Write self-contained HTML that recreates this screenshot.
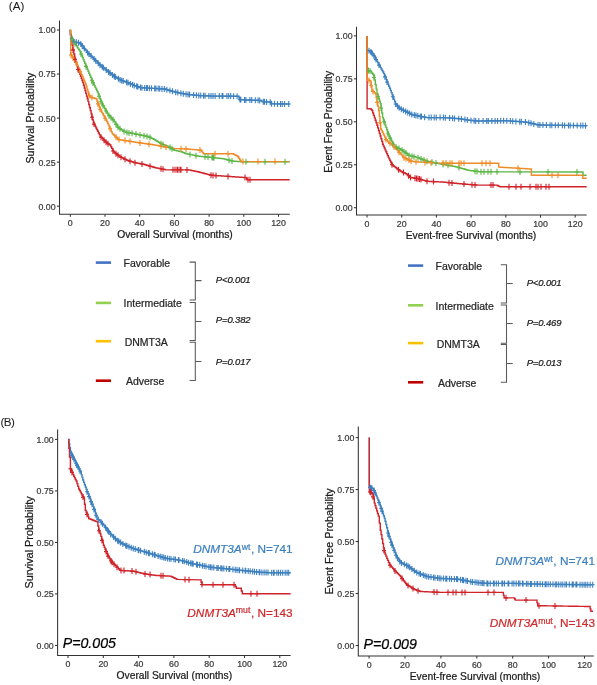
<!DOCTYPE html>
<html><head><meta charset="utf-8"><title>Kaplan-Meier curves</title>
<style>
html,body{margin:0;padding:0;background:#fff;}
body{width:597px;height:685px;overflow:hidden;}
svg{display:block;font-family:"Liberation Sans",Arial,sans-serif;}
text{stroke-width:0.22px;}
</style></head>
<body>
<svg width="597" height="685" viewBox="0 0 597 685">
<rect width="597" height="685" fill="#fff"/>
<path d="M59.5,20.6V214.2H289.8" fill="none" stroke="#333333" stroke-width="1.05"/>
<path d="M56.9,30.0H59.5" stroke="#333333" stroke-width="1.05"/>
<text x="55.6" y="33.4" font-size="8.8" fill="#3a3a3a" stroke="#3a3a3a" text-anchor="end" >1.00</text>
<path d="M56.9,74.05000000000001H59.5" stroke="#333333" stroke-width="1.05"/>
<text x="55.6" y="77.45000000000002" font-size="8.8" fill="#3a3a3a" stroke="#3a3a3a" text-anchor="end" >0.75</text>
<path d="M56.9,118.1H59.5" stroke="#333333" stroke-width="1.05"/>
<text x="55.6" y="121.5" font-size="8.8" fill="#3a3a3a" stroke="#3a3a3a" text-anchor="end" >0.50</text>
<path d="M56.9,162.14999999999998H59.5" stroke="#333333" stroke-width="1.05"/>
<text x="55.6" y="165.54999999999998" font-size="8.8" fill="#3a3a3a" stroke="#3a3a3a" text-anchor="end" >0.25</text>
<path d="M56.9,206.2H59.5" stroke="#333333" stroke-width="1.05"/>
<text x="55.6" y="209.6" font-size="8.8" fill="#3a3a3a" stroke="#3a3a3a" text-anchor="end" >0.00</text>
<path d="M70.3,214.2V216.79999999999998" stroke="#333333" stroke-width="1.05"/>
<text x="70.3" y="225.9" font-size="8.8" fill="#3a3a3a" stroke="#3a3a3a" text-anchor="middle" >0</text>
<path d="M105.0,214.2V216.79999999999998" stroke="#333333" stroke-width="1.05"/>
<text x="105.0" y="225.9" font-size="8.8" fill="#3a3a3a" stroke="#3a3a3a" text-anchor="middle" >20</text>
<path d="M139.7,214.2V216.79999999999998" stroke="#333333" stroke-width="1.05"/>
<text x="139.7" y="225.9" font-size="8.8" fill="#3a3a3a" stroke="#3a3a3a" text-anchor="middle" >40</text>
<path d="M174.4,214.2V216.79999999999998" stroke="#333333" stroke-width="1.05"/>
<text x="174.4" y="225.9" font-size="8.8" fill="#3a3a3a" stroke="#3a3a3a" text-anchor="middle" >60</text>
<path d="M209.10000000000002,214.2V216.79999999999998" stroke="#333333" stroke-width="1.05"/>
<text x="209.10000000000002" y="225.9" font-size="8.8" fill="#3a3a3a" stroke="#3a3a3a" text-anchor="middle" >80</text>
<path d="M243.8,214.2V216.79999999999998" stroke="#333333" stroke-width="1.05"/>
<text x="243.8" y="225.9" font-size="8.8" fill="#3a3a3a" stroke="#3a3a3a" text-anchor="middle" >100</text>
<path d="M278.5,214.2V216.79999999999998" stroke="#333333" stroke-width="1.05"/>
<text x="278.5" y="225.9" font-size="8.8" fill="#3a3a3a" stroke="#3a3a3a" text-anchor="middle" >120</text>
<text x="0" y="0" font-size="10.7" fill="#1a1a1a" stroke="#1a1a1a" text-anchor="middle" transform="translate(34.4,118.1) rotate(-90)">Survival Probability</text>
<text x="175.0" y="238.0" font-size="10.3" fill="#1a1a1a" stroke="#1a1a1a" text-anchor="middle" >Overall Survival (months)</text>
<path d="M69.60,30.40 L70.30,30.40 L70.30,33.70 L71.00,33.70 L71.00,37.00 L71.80,37.00 L71.80,38.57 L72.60,38.57 L72.60,40.13 L73.40,40.13 L73.40,41.70 L74.24,41.70 L74.24,41.88 L75.08,41.88 L75.08,42.05 L75.91,42.05 L75.91,42.23 L76.75,42.23 L76.75,42.40 L77.59,42.40 L77.59,42.58 L78.42,42.58 L78.42,42.75 L79.26,42.75 L79.26,42.93 L80.10,42.93 L80.10,43.10 L80.94,43.10 L80.94,44.19 L81.77,44.19 L81.77,45.27 L82.61,45.27 L82.61,46.36 L83.45,46.36 L83.45,47.45 L84.29,47.45 L84.29,48.54 L85.12,48.54 L85.12,49.62 L85.96,49.62 L85.96,50.71 L86.80,50.71 L86.80,51.80 L87.64,51.80 L87.64,52.64 L88.47,52.64 L88.47,53.47 L89.31,53.47 L89.31,54.31 L90.15,54.31 L90.15,55.15 L90.99,55.15 L90.99,55.99 L91.83,55.99 L91.83,56.83 L92.66,56.83 L92.66,57.66 L93.50,57.66 L93.50,58.50 L94.34,58.50 L94.34,59.34 L95.17,59.34 L95.17,60.17 L96.01,60.17 L96.01,61.01 L96.85,61.01 L96.85,61.85 L97.69,61.85 L97.69,62.69 L98.53,62.69 L98.53,63.53 L99.36,63.53 L99.36,64.36 L100.20,64.36 L100.20,65.20 L101.04,65.20 L101.04,65.88 L101.88,65.88 L101.88,66.55 L102.71,66.55 L102.71,67.22 L103.55,67.22 L103.55,67.90 L104.39,67.90 L104.39,68.58 L105.23,68.58 L105.23,69.25 L106.06,69.25 L106.06,69.92 L106.90,69.92 L106.90,70.60 L107.74,70.60 L107.74,71.26 L108.58,71.26 L108.58,71.92 L109.41,71.92 L109.41,72.59 L110.25,72.59 L110.25,73.25 L111.09,73.25 L111.09,73.91 L111.92,73.91 L111.92,74.58 L112.76,74.58 L112.76,75.24 L113.60,75.24 L113.60,75.90 L114.44,75.90 L114.44,76.41 L115.27,76.41 L115.27,76.93 L116.11,76.93 L116.11,77.44 L116.95,77.44 L116.95,77.95 L117.79,77.95 L117.79,78.46 L118.62,78.46 L118.62,78.97 L119.46,78.97 L119.46,79.49 L120.30,79.49 L120.30,80.00 L121.14,80.00 L121.14,80.30 L121.97,80.30 L121.97,80.60 L122.81,80.60 L122.81,80.90 L123.65,80.90 L123.65,81.20 L124.49,81.20 L124.49,81.50 L125.33,81.50 L125.33,81.80 L126.16,81.80 L126.16,82.10 L127.00,82.10 L127.00,82.40 L127.84,82.40 L127.84,82.76 L128.68,82.76 L128.68,83.12 L129.51,83.12 L129.51,83.49 L130.35,83.49 L130.35,83.85 L131.19,83.85 L131.19,84.21 L132.02,84.21 L132.02,84.58 L132.86,84.58 L132.86,84.94 L133.70,84.94 L133.70,85.30 L134.52,85.30 L134.52,85.59 L135.35,85.59 L135.35,85.88 L136.18,85.88 L136.18,86.16 L137.00,86.16 L137.00,86.45 L137.82,86.45 L137.82,86.74 L138.65,86.74 L138.65,87.02 L139.48,87.02 L139.48,87.31 L140.30,87.31 L140.30,87.60 L141.11,87.60 L141.11,87.65 L141.92,87.65 L141.92,87.70 L142.73,87.70 L142.73,87.75 L143.53,87.75 L143.53,87.80 L144.34,87.80 L144.34,87.85 L145.15,87.85 L145.15,87.90 L145.96,87.90 L145.96,87.95 L146.77,87.95 L146.77,88.00 L147.57,88.00 L147.57,88.05 L148.38,88.05 L148.38,88.10 L149.19,88.10 L149.19,88.15 L150.00,88.15 L150.00,88.20 L150.81,88.20 L150.81,88.24 L151.62,88.24 L151.62,88.29 L152.43,88.29 L152.43,88.33 L153.24,88.33 L153.24,88.38 L154.06,88.38 L154.06,88.42 L154.87,88.42 L154.87,88.47 L155.68,88.47 L155.68,88.51 L156.49,88.51 L156.49,88.56 L157.30,88.56 L157.30,88.60 L158.11,88.60 L158.11,88.64 L158.92,88.64 L158.92,88.69 L159.73,88.69 L159.73,88.73 L160.54,88.73 L160.54,88.78 L161.36,88.78 L161.36,88.82 L162.17,88.82 L162.17,88.87 L162.98,88.87 L162.98,88.91 L163.79,88.91 L163.79,88.96 L164.60,88.96 L164.60,89.00 L165.41,89.00 L165.41,89.24 L166.22,89.24 L166.22,89.48 L167.03,89.48 L167.03,89.72 L167.83,89.72 L167.83,89.97 L168.64,89.97 L168.64,90.21 L169.45,90.21 L169.45,90.45 L170.26,90.45 L170.26,90.69 L171.07,90.69 L171.07,90.93 L171.88,90.93 L171.88,91.18 L172.68,91.18 L172.68,91.42 L173.49,91.42 L173.49,91.66 L174.30,91.66 L174.30,91.90 L175.11,91.90 L175.11,92.06 L175.91,92.06 L175.91,92.22 L176.72,92.22 L176.72,92.38 L177.53,92.38 L177.53,92.54 L178.33,92.54 L178.33,92.70 L179.14,92.70 L179.14,92.86 L179.95,92.86 L179.95,93.02 L180.75,93.02 L180.75,93.18 L181.56,93.18 L181.56,93.34 L182.37,93.34 L182.37,93.50 L183.17,93.50 L183.17,93.66 L183.98,93.66 L183.98,93.82 L184.79,93.82 L184.79,93.98 L185.59,93.98 L185.59,94.14 L186.40,94.14 L186.40,94.30 L187.21,94.30 L187.21,94.38 L188.03,94.38 L188.03,94.46 L188.84,94.46 L188.84,94.54 L189.65,94.54 L189.65,94.62 L190.47,94.62 L190.47,94.70 L191.28,94.70 L191.28,94.78 L192.09,94.78 L192.09,94.86 L192.91,94.86 L192.91,94.94 L193.72,94.94 L193.72,95.02 L194.53,95.02 L194.53,95.10 L195.35,95.10 L195.35,95.18 L196.16,95.18 L196.16,95.26 L196.97,95.26 L196.97,95.34 L197.79,95.34 L197.79,95.42 L198.60,95.42 L198.60,95.50 L210.70,96.00 L238.00,96.20 L239.00,96.20 L239.00,98.00 L240.00,98.00 L240.00,99.80 L240.80,99.80 L240.80,99.82 L241.60,99.82 L241.60,99.85 L242.40,99.85 L242.40,99.87 L243.20,99.87 L243.20,99.90 L244.00,99.90 L244.00,99.92 L244.80,99.92 L244.80,99.94 L245.60,99.94 L245.60,99.97 L246.40,99.97 L246.40,99.99 L247.20,99.99 L247.20,100.02 L248.00,100.02 L248.00,100.04 L248.80,100.04 L248.80,100.06 L249.60,100.06 L249.60,100.09 L250.40,100.09 L250.40,100.11 L251.20,100.11 L251.20,100.14 L252.00,100.14 L252.00,100.16 L252.80,100.16 L252.80,100.18 L253.60,100.18 L253.60,100.21 L254.40,100.21 L254.40,100.23 L255.20,100.23 L255.20,100.26 L256.00,100.26 L256.00,100.28 L256.80,100.28 L256.80,100.30 L257.60,100.30 L257.60,100.33 L258.40,100.33 L258.40,100.35 L259.20,100.35 L259.20,100.38 L260.00,100.38 L260.00,100.40 L261.00,100.40 L261.00,101.05 L262.00,101.05 L262.00,101.70 L270.00,102.00 L270.75,102.00 L270.75,102.90 L271.50,102.90 L271.50,103.80 L289.70,104.00" fill="none" stroke="#3d80bf" stroke-width="1.4" stroke-linejoin="miter"/>
<path d="M69.60,30.40 L70.70,30.40 L70.70,37.00 L71.48,37.00 L71.48,38.23 L72.27,38.23 L72.27,39.47 L73.05,39.47 L73.05,40.70 L73.83,40.70 L73.83,41.93 L74.62,41.93 L74.62,43.17 L75.40,43.17 L75.40,44.40 L76.18,44.40 L76.18,45.63 L76.97,45.63 L76.97,46.87 L77.75,46.87 L77.75,48.10 L78.53,48.10 L78.53,49.33 L79.32,49.33 L79.32,50.57 L80.10,50.57 L80.10,51.80 L80.87,51.80 L80.87,53.71 L81.64,53.71 L81.64,55.63 L82.41,55.63 L82.41,57.54 L83.19,57.54 L83.19,59.46 L83.96,59.46 L83.96,61.37 L84.73,61.37 L84.73,63.29 L85.50,63.29 L85.50,65.20 L86.34,65.20 L86.34,67.21 L87.17,67.21 L87.17,69.22 L88.01,69.22 L88.01,71.24 L88.85,71.24 L88.85,73.25 L89.69,73.25 L89.69,75.26 L90.53,75.26 L90.53,77.28 L91.36,77.28 L91.36,79.29 L92.20,79.29 L92.20,81.30 L92.94,81.30 L92.94,82.83 L93.69,82.83 L93.69,84.36 L94.43,84.36 L94.43,85.89 L95.17,85.89 L95.17,87.41 L95.91,87.41 L95.91,88.94 L96.66,88.94 L96.66,90.47 L97.40,90.47 L97.40,92.00 L98.20,92.00 L98.20,94.16 L99.00,94.16 L99.00,96.32 L99.80,96.32 L99.80,98.48 L100.60,98.48 L100.60,100.64 L101.40,100.64 L101.40,102.80 L102.24,102.80 L102.24,104.30 L103.08,104.30 L103.08,105.80 L103.91,105.80 L103.91,107.30 L104.75,107.30 L104.75,108.80 L105.59,108.80 L105.59,110.30 L106.42,110.30 L106.42,111.80 L107.26,111.80 L107.26,113.30 L108.10,113.30 L108.10,114.80 L108.87,114.80 L108.87,115.57 L109.64,115.57 L109.64,116.34 L110.41,116.34 L110.41,117.11 L111.19,117.11 L111.19,117.89 L111.96,117.89 L111.96,118.66 L112.73,118.66 L112.73,119.43 L113.50,119.43 L113.50,120.20 L114.30,120.20 L114.30,121.54 L115.10,121.54 L115.10,122.88 L115.90,122.88 L115.90,124.22 L116.70,124.22 L116.70,125.56 L117.50,125.56 L117.50,126.90 L118.27,126.90 L118.27,127.47 L119.04,127.47 L119.04,128.04 L119.81,128.04 L119.81,128.61 L120.59,128.61 L120.59,129.19 L121.36,129.19 L121.36,129.76 L122.13,129.76 L122.13,130.33 L122.90,130.33 L122.90,130.90 L123.68,130.90 L123.68,131.22 L124.46,131.22 L124.46,131.54 L125.24,131.54 L125.24,131.86 L126.02,131.86 L126.02,132.18 L126.80,132.18 L126.80,132.50 L127.65,132.50 L127.65,132.64 L128.50,132.64 L128.50,132.78 L129.35,132.78 L129.35,132.91 L130.20,132.91 L130.20,133.05 L131.05,133.05 L131.05,133.19 L131.90,133.19 L131.90,133.32 L132.75,133.32 L132.75,133.46 L133.60,133.46 L133.60,133.60 L134.38,133.60 L134.38,133.76 L135.17,133.76 L135.17,133.93 L135.95,133.93 L135.95,134.09 L136.74,134.09 L136.74,134.25 L137.52,134.25 L137.52,134.42 L138.31,134.42 L138.31,134.58 L139.09,134.58 L139.09,134.74 L139.87,134.74 L139.87,134.91 L140.66,134.91 L140.66,135.07 L141.44,135.07 L141.44,135.23 L142.23,135.23 L142.23,135.39 L143.01,135.39 L143.01,135.56 L143.79,135.56 L143.79,135.72 L144.58,135.72 L144.58,135.88 L145.36,135.88 L145.36,136.05 L146.15,136.05 L146.15,136.21 L146.93,136.21 L146.93,136.37 L147.72,136.37 L147.72,136.54 L148.50,136.54 L148.50,136.70 L149.35,136.70 L149.35,137.12 L150.20,137.12 L150.20,137.53 L151.05,137.53 L151.05,137.95 L151.90,137.95 L151.90,138.37 L152.75,138.37 L152.75,138.78 L153.60,138.78 L153.60,139.20 L154.44,139.20 L154.44,139.72 L155.28,139.72 L155.28,140.25 L156.11,140.25 L156.11,140.78 L156.95,140.78 L156.95,141.30 L157.79,141.30 L157.79,141.82 L158.62,141.82 L158.62,142.35 L159.46,142.35 L159.46,142.88 L160.30,142.88 L160.30,143.40 L161.13,143.40 L161.13,143.74 L161.96,143.74 L161.96,144.08 L162.79,144.08 L162.79,144.42 L163.62,144.42 L163.62,144.76 L164.45,144.76 L164.45,145.10 L165.28,145.10 L165.28,145.44 L166.11,145.44 L166.11,145.78 L166.94,145.78 L166.94,146.12 L167.77,146.12 L167.77,146.46 L168.60,146.46 L168.60,146.80 L169.41,146.80 L169.41,147.29 L170.23,147.29 L170.23,147.77 L171.04,147.77 L171.04,148.26 L171.86,148.26 L171.86,148.74 L172.67,148.74 L172.67,149.23 L173.49,149.23 L173.49,149.71 L174.30,149.71 L174.30,150.20 L175.06,150.20 L175.06,150.36 L175.83,150.36 L175.83,150.52 L176.59,150.52 L176.59,150.69 L177.35,150.69 L177.35,150.85 L178.11,150.85 L178.11,151.01 L178.88,151.01 L178.88,151.18 L179.64,151.18 L179.64,151.34 L180.40,151.34 L180.40,151.50 L181.15,151.50 L181.15,151.79 L181.90,151.79 L181.90,152.07 L182.65,152.07 L182.65,152.36 L183.40,152.36 L183.40,152.65 L184.15,152.65 L184.15,152.94 L184.90,152.94 L184.90,153.23 L185.65,153.23 L185.65,153.51 L186.40,153.51 L186.40,153.80 L187.21,153.80 L187.21,153.96 L188.03,153.96 L188.03,154.12 L188.84,154.12 L188.84,154.28 L189.65,154.28 L189.65,154.44 L190.47,154.44 L190.47,154.60 L191.28,154.60 L191.28,154.76 L192.09,154.76 L192.09,154.92 L192.91,154.92 L192.91,155.08 L193.72,155.08 L193.72,155.24 L194.53,155.24 L194.53,155.40 L195.35,155.40 L195.35,155.56 L196.16,155.56 L196.16,155.72 L196.97,155.72 L196.97,155.88 L197.79,155.88 L197.79,156.04 L198.60,156.04 L198.60,156.20 L199.41,156.20 L199.41,156.28 L200.21,156.28 L200.21,156.36 L201.02,156.36 L201.02,156.44 L201.83,156.44 L201.83,156.52 L202.63,156.52 L202.63,156.60 L203.44,156.60 L203.44,156.68 L204.25,156.68 L204.25,156.76 L205.05,156.76 L205.05,156.84 L205.86,156.84 L205.86,156.92 L206.67,156.92 L206.67,157.00 L207.47,157.00 L207.47,157.08 L208.28,157.08 L208.28,157.16 L209.09,157.16 L209.09,157.24 L209.89,157.24 L209.89,157.32 L210.70,157.32 L210.70,157.40 L211.51,157.40 L211.51,157.49 L212.33,157.49 L212.33,157.57 L213.14,157.57 L213.14,157.66 L213.95,157.66 L213.95,157.75 L214.77,157.75 L214.77,157.83 L215.58,157.83 L215.58,157.92 L216.39,157.92 L216.39,158.01 L217.21,158.01 L217.21,158.09 L218.02,158.09 L218.02,158.18 L218.83,158.18 L218.83,158.27 L219.65,158.27 L219.65,158.35 L220.46,158.35 L220.46,158.44 L221.27,158.44 L221.27,158.53 L222.09,158.53 L222.09,158.61 L222.90,158.61 L222.90,158.70 L223.71,158.70 L223.71,158.90 L224.52,158.90 L224.52,159.10 L225.32,159.10 L225.32,159.30 L226.13,159.30 L226.13,159.50 L226.94,159.50 L226.94,159.70 L227.75,159.70 L227.75,159.90 L228.56,159.90 L228.56,160.10 L229.37,160.10 L229.37,160.30 L230.18,160.30 L230.18,160.50 L230.98,160.50 L230.98,160.70 L231.79,160.70 L231.79,160.90 L232.60,160.90 L232.60,161.10 L233.41,161.10 L233.41,161.16 L234.22,161.16 L234.22,161.22 L235.03,161.22 L235.03,161.28 L235.83,161.28 L235.83,161.33 L236.64,161.33 L236.64,161.39 L237.45,161.39 L237.45,161.45 L238.26,161.45 L238.26,161.51 L239.07,161.51 L239.07,161.57 L239.88,161.57 L239.88,161.62 L240.68,161.62 L240.68,161.68 L241.49,161.68 L241.49,161.74 L242.30,161.74 L242.30,161.80 L289.70,161.80" fill="none" stroke="#5cb748" stroke-width="1.4" stroke-linejoin="miter"/>
<path d="M69.60,30.40 L70.40,30.40 L70.40,35.30 L71.20,35.30 L71.20,40.20 L72.00,40.20 L72.00,45.10 L72.90,45.10 L72.90,49.57 L73.80,49.57 L73.80,54.03 L74.70,54.03 L74.70,58.50 L75.60,58.50 L75.60,61.63 L76.50,61.63 L76.50,64.77 L77.40,64.77 L77.40,67.90 L78.17,67.90 L78.17,70.00 L78.94,70.00 L78.94,72.10 L79.71,72.10 L79.71,74.20 L80.49,74.20 L80.49,76.30 L81.26,76.30 L81.26,78.40 L82.03,78.40 L82.03,80.50 L82.80,80.50 L82.80,82.60 L83.54,82.60 L83.54,85.29 L84.29,85.29 L84.29,87.97 L85.03,87.97 L85.03,90.66 L85.77,90.66 L85.77,93.34 L86.51,93.34 L86.51,96.03 L87.26,96.03 L87.26,98.71 L88.00,98.71 L88.00,101.40 L88.77,101.40 L88.77,104.47 L89.54,104.47 L89.54,107.54 L90.31,107.54 L90.31,110.61 L91.09,110.61 L91.09,113.69 L91.86,113.69 L91.86,116.76 L92.63,116.76 L92.63,119.83 L93.40,119.83 L93.40,122.90 L94.24,122.90 L94.24,124.58 L95.08,124.58 L95.08,126.25 L95.91,126.25 L95.91,127.93 L96.75,127.93 L96.75,129.60 L97.59,129.60 L97.59,131.28 L98.42,131.28 L98.42,132.95 L99.26,132.95 L99.26,134.62 L100.10,134.62 L100.10,136.30 L100.94,136.30 L100.94,137.14 L101.77,137.14 L101.77,137.98 L102.61,137.98 L102.61,138.81 L103.45,138.81 L103.45,139.65 L104.29,139.65 L104.29,140.49 L105.12,140.49 L105.12,141.32 L105.96,141.32 L105.96,142.16 L106.80,142.16 L106.80,143.00 L107.60,143.00 L107.60,143.50 L108.40,143.50 L108.40,144.00 L109.20,144.00 L109.20,144.50 L110.00,144.50 L110.00,145.00 L110.85,145.00 L110.85,146.70 L111.70,146.70 L111.70,148.40 L112.55,148.40 L112.55,150.10 L113.40,150.10 L113.40,151.80 L114.23,151.80 L114.23,152.43 L115.05,152.43 L115.05,153.05 L115.88,153.05 L115.88,153.68 L116.70,153.68 L116.70,154.30 L117.53,154.30 L117.53,154.93 L118.35,154.93 L118.35,155.55 L119.17,155.55 L119.17,156.18 L120.00,156.18 L120.00,156.80 L120.85,156.80 L120.85,157.23 L121.70,157.23 L121.70,157.65 L122.55,157.65 L122.55,158.07 L123.40,158.07 L123.40,158.50 L124.25,158.50 L124.25,158.93 L125.10,158.93 L125.10,159.35 L125.95,159.35 L125.95,159.77 L126.80,159.77 L126.80,160.20 L127.63,160.20 L127.63,160.45 L128.46,160.45 L128.46,160.70 L129.29,160.70 L129.29,160.95 L130.12,160.95 L130.12,161.20 L130.95,161.20 L130.95,161.45 L131.78,161.45 L131.78,161.70 L132.61,161.70 L132.61,161.95 L133.44,161.95 L133.44,162.20 L134.27,162.20 L134.27,162.45 L135.10,162.45 L135.10,162.70 L135.86,162.70 L135.86,162.85 L136.63,162.85 L136.63,162.99 L137.39,162.99 L137.39,163.14 L138.15,163.14 L138.15,163.28 L138.92,163.28 L138.92,163.43 L139.68,163.43 L139.68,163.57 L140.45,163.57 L140.45,163.72 L141.21,163.72 L141.21,163.86 L141.97,163.86 L141.97,164.01 L142.74,164.01 L142.74,164.15 L143.50,164.15 L143.50,164.30 L144.28,164.30 L144.28,164.53 L145.06,164.53 L145.06,164.75 L145.84,164.75 L145.84,164.98 L146.62,164.98 L146.62,165.21 L147.40,165.21 L147.40,165.43 L148.18,165.43 L148.18,165.66 L148.96,165.66 L148.96,165.89 L149.74,165.89 L149.74,166.11 L150.52,166.11 L150.52,166.34 L151.30,166.34 L151.30,166.57 L152.08,166.57 L152.08,166.79 L152.86,166.79 L152.86,167.02 L153.64,167.02 L153.64,167.25 L154.42,167.25 L154.42,167.47 L155.20,167.47 L155.20,167.70 L155.98,167.70 L155.98,167.85 L156.75,167.85 L156.75,168.01 L157.53,168.01 L157.53,168.16 L158.31,168.16 L158.31,168.32 L159.08,168.32 L159.08,168.47 L159.86,168.47 L159.86,168.62 L160.64,168.62 L160.64,168.78 L161.42,168.78 L161.42,168.93 L162.19,168.93 L162.19,169.08 L162.97,169.08 L162.97,169.24 L163.75,169.24 L163.75,169.39 L164.52,169.39 L164.52,169.55 L165.30,169.55 L165.30,169.70 L188.90,169.90 L189.71,169.90 L189.71,170.08 L190.52,170.08 L190.52,170.25 L191.32,170.25 L191.32,170.43 L192.13,170.43 L192.13,170.60 L192.94,170.60 L192.94,170.78 L193.75,170.78 L193.75,170.95 L194.56,170.95 L194.56,171.12 L195.37,171.12 L195.37,171.30 L196.18,171.30 L196.18,171.47 L196.98,171.47 L196.98,171.65 L197.79,171.65 L197.79,171.82 L198.60,171.82 L198.60,172.00 L199.41,172.00 L199.41,172.21 L200.21,172.21 L200.21,172.43 L201.02,172.43 L201.02,172.64 L201.83,172.64 L201.83,172.85 L202.63,172.85 L202.63,173.07 L203.44,173.07 L203.44,173.28 L204.25,173.28 L204.25,173.49 L205.05,173.49 L205.05,173.71 L205.86,173.71 L205.86,173.92 L206.67,173.92 L206.67,174.13 L207.47,174.13 L207.47,174.35 L208.28,174.35 L208.28,174.56 L209.09,174.56 L209.09,174.77 L209.89,174.77 L209.89,174.99 L210.70,174.99 L210.70,175.20 L211.51,175.20 L211.51,175.26 L212.32,175.26 L212.32,175.31 L213.13,175.31 L213.13,175.37 L213.94,175.37 L213.94,175.43 L214.75,175.43 L214.75,175.48 L215.56,175.48 L215.56,175.54 L216.37,175.54 L216.37,175.60 L217.18,175.60 L217.18,175.65 L217.99,175.65 L217.99,175.71 L218.80,175.71 L218.80,175.77 L219.61,175.77 L219.61,175.82 L220.42,175.82 L220.42,175.88 L221.23,175.88 L221.23,175.94 L222.04,175.94 L222.04,175.99 L222.85,175.99 L222.85,176.05 L223.66,176.05 L223.66,176.11 L224.47,176.11 L224.47,176.16 L225.28,176.16 L225.28,176.22 L226.09,176.22 L226.09,176.28 L226.90,176.28 L226.90,176.33 L227.71,176.33 L227.71,176.39 L228.52,176.39 L228.52,176.45 L229.33,176.45 L229.33,176.50 L230.14,176.50 L230.14,176.56 L230.95,176.56 L230.95,176.62 L231.76,176.62 L231.76,176.67 L232.57,176.67 L232.57,176.73 L233.38,176.73 L233.38,176.79 L234.19,176.79 L234.19,176.84 L235.00,176.84 L235.00,176.90 L235.78,176.90 L235.78,176.95 L236.56,176.95 L236.56,177.00 L237.34,177.00 L237.34,177.05 L238.11,177.05 L238.11,177.10 L238.89,177.10 L238.89,177.15 L239.67,177.15 L239.67,177.20 L240.45,177.20 L240.45,177.25 L241.23,177.25 L241.23,177.30 L242.01,177.30 L242.01,177.35 L242.79,177.35 L242.79,177.40 L243.56,177.40 L243.56,177.45 L244.34,177.45 L244.34,177.50 L245.12,177.50 L245.12,177.55 L245.90,177.55 L245.90,177.60 L246.55,177.60 L246.55,178.70 L247.20,178.70 L247.20,179.80 L289.70,179.80" fill="none" stroke="#d0242a" stroke-width="1.4" stroke-linejoin="miter"/>
<path d="M69.60,30.40 L70.70,30.40 L70.70,54.50 L71.46,54.50 L71.46,55.64 L72.21,55.64 L72.21,56.79 L72.97,56.79 L72.97,57.93 L73.73,57.93 L73.73,59.07 L74.49,59.07 L74.49,60.21 L75.24,60.21 L75.24,61.36 L76.00,61.36 L76.00,62.50 L76.77,62.50 L76.77,64.23 L77.54,64.23 L77.54,65.96 L78.31,65.96 L78.31,67.69 L79.09,67.69 L79.09,69.41 L79.86,69.41 L79.86,71.14 L80.63,71.14 L80.63,72.87 L81.40,72.87 L81.40,74.60 L82.20,74.60 L82.20,76.48 L83.00,76.48 L83.00,78.36 L83.80,78.36 L83.80,80.24 L84.60,80.24 L84.60,82.12 L85.40,82.12 L85.40,84.00 L86.20,84.00 L86.20,86.56 L87.00,86.56 L87.00,89.12 L87.80,89.12 L87.80,91.68 L88.60,91.68 L88.60,94.24 L89.40,94.24 L89.40,96.80 L90.24,96.80 L90.24,97.05 L91.08,97.05 L91.08,97.30 L91.91,97.30 L91.91,97.55 L92.75,97.55 L92.75,97.80 L93.59,97.80 L93.59,98.05 L94.42,98.05 L94.42,98.30 L95.26,98.30 L95.26,98.55 L96.10,98.55 L96.10,98.80 L96.90,98.80 L96.90,100.94 L97.70,100.94 L97.70,103.08 L98.50,103.08 L98.50,105.22 L99.30,105.22 L99.30,107.36 L100.10,107.36 L100.10,109.50 L100.94,109.50 L100.94,111.00 L101.77,111.00 L101.77,112.50 L102.61,112.50 L102.61,114.00 L103.45,114.00 L103.45,115.50 L104.29,115.50 L104.29,117.00 L105.12,117.00 L105.12,118.50 L105.96,118.50 L105.96,120.00 L106.80,120.00 L106.80,121.50 L107.57,121.50 L107.57,123.23 L108.34,123.23 L108.34,124.96 L109.11,124.96 L109.11,126.69 L109.89,126.69 L109.89,128.41 L110.66,128.41 L110.66,130.14 L111.43,130.14 L111.43,131.87 L112.20,131.87 L112.20,133.60 L112.98,133.60 L112.98,134.34 L113.75,134.34 L113.75,135.07 L114.53,135.07 L114.53,135.81 L115.30,135.81 L115.30,136.55 L116.08,136.55 L116.08,137.29 L116.85,137.29 L116.85,138.03 L117.62,138.03 L117.62,138.76 L118.40,138.76 L118.40,139.50 L119.24,139.50 L119.24,139.64 L120.08,139.64 L120.08,139.78 L120.92,139.78 L120.92,139.92 L121.76,139.92 L121.76,140.06 L122.60,140.06 L122.60,140.20 L123.44,140.20 L123.44,140.34 L124.28,140.34 L124.28,140.48 L125.12,140.48 L125.12,140.62 L125.96,140.62 L125.96,140.76 L126.80,140.76 L126.80,140.90 L127.60,140.90 L127.60,141.02 L128.39,141.02 L128.39,141.14 L129.19,141.14 L129.19,141.26 L129.98,141.26 L129.98,141.38 L130.78,141.38 L130.78,141.50 L131.57,141.50 L131.57,141.61 L132.37,141.61 L132.37,141.73 L133.16,141.73 L133.16,141.85 L133.96,141.85 L133.96,141.97 L134.75,141.97 L134.75,142.09 L135.55,142.09 L135.55,142.21 L136.34,142.21 L136.34,142.33 L137.14,142.33 L137.14,142.45 L137.93,142.45 L137.93,142.57 L138.73,142.57 L138.73,142.69 L139.52,142.69 L139.52,142.80 L140.32,142.80 L140.32,142.92 L141.11,142.92 L141.11,143.04 L141.91,143.04 L141.91,143.16 L142.70,143.16 L142.70,143.28 L143.50,143.28 L143.50,143.40 L144.28,143.40 L144.28,143.51 L145.06,143.51 L145.06,143.63 L145.84,143.63 L145.84,143.74 L146.62,143.74 L146.62,143.85 L147.40,143.85 L147.40,143.97 L148.18,143.97 L148.18,144.08 L148.96,144.08 L148.96,144.19 L149.74,144.19 L149.74,144.31 L150.52,144.31 L150.52,144.42 L151.30,144.42 L151.30,144.53 L152.08,144.53 L152.08,144.65 L152.86,144.65 L152.86,144.76 L153.64,144.76 L153.64,144.87 L154.42,144.87 L154.42,144.99 L155.20,144.99 L155.20,145.10 L155.96,145.10 L155.96,145.25 L156.73,145.25 L156.73,145.41 L157.49,145.41 L157.49,145.56 L158.25,145.56 L158.25,145.72 L159.02,145.72 L159.02,145.87 L159.78,145.87 L159.78,146.03 L160.55,146.03 L160.55,146.18 L161.31,146.18 L161.31,146.34 L162.07,146.34 L162.07,146.49 L162.84,146.49 L162.84,146.65 L163.60,146.65 L163.60,146.80 L164.38,146.80 L164.38,146.92 L165.15,146.92 L165.15,147.05 L165.93,147.05 L165.93,147.17 L166.71,147.17 L166.71,147.29 L167.48,147.29 L167.48,147.42 L168.26,147.42 L168.26,147.54 L169.04,147.54 L169.04,147.66 L169.82,147.66 L169.82,147.78 L170.59,147.78 L170.59,147.91 L171.37,147.91 L171.37,148.03 L172.15,148.03 L172.15,148.15 L172.92,148.15 L172.92,148.28 L173.70,148.28 L173.70,148.40 L186.40,149.00 L187.21,149.00 L187.21,149.07 L188.02,149.07 L188.02,149.13 L188.83,149.13 L188.83,149.20 L189.64,149.20 L189.64,149.27 L190.46,149.27 L190.46,149.33 L191.27,149.33 L191.27,149.40 L192.08,149.40 L192.08,149.47 L192.89,149.47 L192.89,149.53 L193.70,149.53 L193.70,149.60 L194.51,149.60 L194.51,149.67 L195.32,149.67 L195.32,149.73 L196.13,149.73 L196.13,149.80 L196.94,149.80 L196.94,149.87 L197.76,149.87 L197.76,149.93 L198.57,149.93 L198.57,150.00 L199.38,150.00 L199.38,150.07 L200.19,150.07 L200.19,150.13 L201.00,150.13 L201.00,150.20 L201.80,150.20 L201.80,151.40 L202.60,151.40 L202.60,152.60 L203.40,152.60 L203.40,153.80 L232.60,153.80 L233.40,153.80 L233.40,154.20 L234.20,154.20 L234.20,154.60 L235.00,154.60 L235.00,155.00 L235.80,155.00 L235.80,155.40 L236.60,155.40 L236.60,155.80 L237.40,155.80 L237.40,156.20 L238.14,156.20 L238.14,157.28 L238.88,157.28 L238.88,158.36 L239.62,158.36 L239.62,159.44 L240.36,159.44 L240.36,160.52 L241.10,160.52 L241.10,161.60 L289.70,161.60" fill="none" stroke="#f08c28" stroke-width="1.4" stroke-linejoin="miter"/>
<path d="M69.7,38.3h4.0M71.7,35.3v6.0M72.2,41.9h4.0M74.2,38.9v6.0M74.2,42.3h4.0M76.2,39.3v6.0M76.6,42.8h4.0M78.6,39.8v6.0M78.8,44.0h4.0M80.8,41.0v6.0M80.2,45.9h4.0M82.2,42.9v6.0M82.3,48.6h4.0M84.3,45.6v6.0M85.5,52.5h4.0M87.5,49.5v6.0M86.9,53.9h4.0M88.9,50.9v6.0M89.1,56.1h4.0M91.1,53.1v6.0M92.1,59.1h4.0M94.1,56.1v6.0M93.7,60.7h4.0M95.7,57.7v6.0M96.2,63.2h4.0M98.2,60.2v6.0M98.0,65.0h4.0M100.0,62.0v6.0M100.2,66.8h4.0M102.2,63.8v6.0M101.4,67.8h4.0M103.4,64.8v6.0M104.2,70.0h4.0M106.2,67.0v6.0M106.6,71.9h4.0M108.6,68.9v6.0M108.0,73.1h4.0M110.0,70.1v6.0M110.4,74.9h4.0M112.4,71.9v6.0M112.3,76.3h4.0M114.3,73.3v6.0M113.3,76.9h4.0M115.3,73.9v6.0M116.4,78.8h4.0M118.4,75.8v6.0M118.1,79.9h4.0M120.1,76.9v6.0M119.7,80.5h4.0M121.7,77.5v6.0M121.2,81.1h4.0M123.2,78.1v6.0M124.6,82.3h4.0M126.6,79.3v6.0M126.0,82.8h4.0M128.0,79.8v6.0M128.4,83.9h4.0M130.4,80.9v6.0M130.6,84.8h4.0M132.6,81.8v6.0M132.3,85.5h4.0M134.3,82.5v6.0M134.7,86.3h4.0M136.7,83.3v6.0M135.8,86.7h4.0M137.8,83.7v6.0M138.5,87.6h4.0M140.5,84.6v6.0M139.9,87.7h4.0M141.9,84.7v6.0M142.7,87.9h4.0M144.7,84.9v6.0M144.6,88.0h4.0M146.6,85.0v6.0M145.4,88.0h4.0M147.4,85.0v6.0M147.4,88.2h4.0M149.4,85.2v6.0M149.5,88.3h4.0M151.5,85.3v6.0M152.7,88.5h4.0M154.7,85.5v6.0M153.9,88.5h4.0M155.9,85.5v6.0M156.2,88.6h4.0M158.2,85.6v6.0M157.7,88.7h4.0M159.7,85.7v6.0M160.0,88.9h4.0M162.0,85.9v6.0M162.3,89.0h4.0M164.3,86.0v6.0M164.8,89.7h4.0M166.8,86.7v6.0M167.9,90.6h4.0M169.9,87.6v6.0M170.5,91.3h4.0M172.5,88.3v6.0M173.7,92.2h4.0M175.7,89.2v6.0M175.8,92.6h4.0M177.8,89.6v6.0M178.9,93.2h4.0M180.9,90.2v6.0M181.3,93.7h4.0M183.3,90.7v6.0M184.1,94.2h4.0M186.1,91.2v6.0M186.1,94.5h4.0M188.1,91.5v6.0M187.6,94.6h4.0M189.6,91.6v6.0M191.6,95.0h4.0M193.6,92.0v6.0M194.4,95.3h4.0M196.4,92.3v6.0M196.8,95.5h4.0M198.8,92.5v6.0M198.7,95.6h4.0M200.7,92.6v6.0M201.6,95.7h4.0M203.6,92.7v6.0M203.1,95.8h4.0M205.1,92.8v6.0M206.9,95.9h4.0M208.9,92.9v6.0M209.0,96.0h4.0M211.0,93.0v6.0M211.0,96.0h4.0M213.0,93.0v6.0M213.1,96.0h4.0M215.1,93.0v6.0M217.3,96.1h4.0M219.3,93.1v6.0M220.1,96.1h4.0M222.1,93.1v6.0M220.9,96.1h4.0M222.9,93.1v6.0M224.9,96.1h4.0M226.9,93.1v6.0M226.7,96.1h4.0M228.7,93.1v6.0M228.7,96.1h4.0M230.7,93.1v6.0M231.6,96.2h4.0M233.6,93.2v6.0M235.1,96.2h4.0M237.1,93.2v6.0M237.9,99.6h4.0M239.9,96.6v6.0M238.8,99.8h4.0M240.8,96.8v6.0M242.5,99.9h4.0M244.5,96.9v6.0M243.9,100.0h4.0M245.9,97.0v6.0M247.9,100.1h4.0M249.9,97.1v6.0M249.7,100.1h4.0M251.7,97.1v6.0M253.3,100.3h4.0M255.3,97.3v6.0M256.1,100.3h4.0M258.1,97.3v6.0M257.7,100.4h4.0M259.7,97.4v6.0M261.3,101.7h4.0M263.3,98.7v6.0M262.5,101.8h4.0M264.5,98.8v6.0M264.6,101.9h4.0M266.6,98.9v6.0M268.2,102.2h4.0M270.2,99.2v6.0M269.6,103.8h4.0M271.6,100.8v6.0M272.5,103.8h4.0M274.5,100.8v6.0M275.5,103.9h4.0M277.5,100.9v6.0M278.5,103.9h4.0M280.5,100.9v6.0M280.2,103.9h4.0M282.2,100.9v6.0M282.5,103.9h4.0M284.5,100.9v6.0M286.7,104.0h4.0M288.7,101.0v6.0" fill="none" stroke="#3d80bf" stroke-width="1.1"/>
<path d="M70.0,39.0h4.0M72.0,36.0v6.0M73.0,43.8h4.0M75.0,40.8v6.0M79.0,54.0h4.0M81.0,51.0v6.0M84.0,66.4h4.0M86.0,63.4v6.0M90.0,80.8h4.0M92.0,77.8v6.0M91.0,82.9h4.0M93.0,79.9v6.0M97.0,96.3h4.0M99.0,93.3v6.0M99.0,101.7h4.0M101.0,98.7v6.0M101.0,105.7h4.0M103.0,102.7v6.0M104.0,111.0h4.0M106.0,108.0v6.0M107.0,115.7h4.0M109.0,112.7v6.0M109.0,117.7h4.0M111.0,114.7v6.0M111.0,119.7h4.0M113.0,116.7v6.0M114.0,124.4h4.0M116.0,121.4v6.0M116.0,127.3h4.0M118.0,124.3v6.0M118.0,128.8h4.0M120.0,125.8v6.0M122.0,131.4h4.0M124.0,128.4v6.0M125.0,132.5h4.0M127.0,129.5v6.0M127.0,132.9h4.0M129.0,129.9v6.0M130.0,133.3h4.0M132.0,130.3v6.0M134.0,134.1h4.0M136.0,131.1v6.0M138.0,134.9h4.0M140.0,131.9v6.0M142.0,135.8h4.0M144.0,132.8v6.0M145.0,136.4h4.0M147.0,133.4v6.0M148.0,137.4h4.0M150.0,134.4v6.0M159.0,143.7h4.0M161.0,140.7v6.0M161.0,144.5h4.0M163.0,141.5v6.0M168.0,147.6h4.0M170.0,144.6v6.0M170.0,148.8h4.0M172.0,145.8v6.0M188.0,154.5h4.0M190.0,151.5v6.0M194.0,155.7h4.0M196.0,152.7v6.0M203.0,156.8h4.0M205.0,153.8v6.0M206.0,157.1h4.0M208.0,154.1v6.0M210.0,157.5h4.0M212.0,154.5v6.0M211.0,157.6h4.0M213.0,154.6v6.0M212.0,157.8h4.0M214.0,154.8v6.0M227.0,160.2h4.0M229.0,157.2v6.0M230.0,161.0h4.0M232.0,158.0v6.0M244.0,161.8h4.0M246.0,158.8v6.0M263.0,161.8h4.0M265.0,158.8v6.0M283.0,161.8h4.0M285.0,158.8v6.0" fill="none" stroke="#5cb748" stroke-width="1.1"/>
<path d="M69.0,55.0h4.0M71.0,52.0v6.0M71.0,58.0h4.0M73.0,55.0v6.0M74.0,62.5h4.0M76.0,59.5v6.0M78.0,71.5h4.0M80.0,68.5v6.0M87.0,95.5h4.0M89.0,92.5v6.0M90.0,97.6h4.0M92.0,94.6v6.0M96.0,103.9h4.0M98.0,100.9v6.0M98.0,109.2h4.0M100.0,106.2v6.0M103.0,118.3h4.0M105.0,115.3v6.0M108.0,128.7h4.0M110.0,125.7v6.0M114.0,137.2h4.0M116.0,134.2v6.0M117.0,139.6h4.0M119.0,136.6v6.0M123.0,140.6h4.0M125.0,137.6v6.0M128.0,141.4h4.0M130.0,138.4v6.0M138.0,142.9h4.0M140.0,139.9v6.0M147.0,144.2h4.0M149.0,141.2v6.0M159.0,146.3h4.0M161.0,143.3v6.0M164.0,147.2h4.0M166.0,144.2v6.0M179.0,148.7h4.0M181.0,145.7v6.0M184.0,149.0h4.0M186.0,146.0v6.0M198.0,150.1h4.0M200.0,147.1v6.0M213.0,153.8h4.0M215.0,150.8v6.0M226.0,153.8h4.0M228.0,150.8v6.0M241.0,161.6h4.0M243.0,158.6v6.0M256.0,161.6h4.0M258.0,158.6v6.0M273.0,161.6h4.0M275.0,158.6v6.0" fill="none" stroke="#f08c28" stroke-width="1.1"/>
<path d="M71.0,50.1h4.0M73.0,47.1v6.0M73.0,59.5h4.0M75.0,56.5v6.0M76.0,69.5h4.0M78.0,66.5v6.0M90.0,117.3h4.0M92.0,114.3v6.0M92.0,124.1h4.0M94.0,121.1v6.0M99.0,137.2h4.0M101.0,134.2v6.0M102.0,140.2h4.0M104.0,137.2v6.0M104.0,142.2h4.0M106.0,139.2v6.0M106.0,143.8h4.0M108.0,140.8v6.0M111.0,151.0h4.0M113.0,148.0v6.0M114.0,153.8h4.0M116.0,150.8v6.0M116.0,155.3h4.0M118.0,152.3v6.0M119.0,157.3h4.0M121.0,154.3v6.0M123.0,159.3h4.0M125.0,156.3v6.0M128.0,161.2h4.0M130.0,158.2v6.0M133.0,162.7h4.0M135.0,159.7v6.0M140.0,164.0h4.0M142.0,161.0v6.0M148.0,166.2h4.0M150.0,163.2v6.0M159.0,168.8h4.0M161.0,165.8v6.0M161.0,169.2h4.0M163.0,166.2v6.0M171.0,169.8h4.0M173.0,166.8v6.0M173.0,169.8h4.0M175.0,166.8v6.0M175.0,169.8h4.0M177.0,166.8v6.0M176.0,169.8h4.0M178.0,166.8v6.0M178.0,169.8h4.0M180.0,166.8v6.0M179.0,169.8h4.0M181.0,166.8v6.0M185.0,169.9h4.0M187.0,166.9v6.0M209.0,175.2h4.0M211.0,172.2v6.0M211.0,175.4h4.0M213.0,172.4v6.0M214.0,175.6h4.0M216.0,172.6v6.0M226.0,176.4h4.0M228.0,173.4v6.0M243.0,177.5h4.0M245.0,174.5v6.0M246.0,179.8h4.0M248.0,176.8v6.0M248.0,179.8h4.0M250.0,176.8v6.0" fill="none" stroke="#d0242a" stroke-width="1.1"/>
<path d="M356.5,26.7V215.0H586.7" fill="none" stroke="#333333" stroke-width="1.05"/>
<path d="M353.9,35.900000000000006H356.5" stroke="#333333" stroke-width="1.05"/>
<text x="352.6" y="39.300000000000004" font-size="8.8" fill="#3a3a3a" stroke="#3a3a3a" text-anchor="end" >1.00</text>
<path d="M353.9,78.85H356.5" stroke="#333333" stroke-width="1.05"/>
<text x="352.6" y="82.25" font-size="8.8" fill="#3a3a3a" stroke="#3a3a3a" text-anchor="end" >0.75</text>
<path d="M353.9,121.8H356.5" stroke="#333333" stroke-width="1.05"/>
<text x="352.6" y="125.2" font-size="8.8" fill="#3a3a3a" stroke="#3a3a3a" text-anchor="end" >0.50</text>
<path d="M353.9,164.75H356.5" stroke="#333333" stroke-width="1.05"/>
<text x="352.6" y="168.15" font-size="8.8" fill="#3a3a3a" stroke="#3a3a3a" text-anchor="end" >0.25</text>
<path d="M353.9,207.7H356.5" stroke="#333333" stroke-width="1.05"/>
<text x="352.6" y="211.1" font-size="8.8" fill="#3a3a3a" stroke="#3a3a3a" text-anchor="end" >0.00</text>
<path d="M367.0,215.0V217.6" stroke="#333333" stroke-width="1.05"/>
<text x="367.0" y="226.7" font-size="8.8" fill="#3a3a3a" stroke="#3a3a3a" text-anchor="middle" >0</text>
<path d="M401.7,215.0V217.6" stroke="#333333" stroke-width="1.05"/>
<text x="401.7" y="226.7" font-size="8.8" fill="#3a3a3a" stroke="#3a3a3a" text-anchor="middle" >20</text>
<path d="M436.4,215.0V217.6" stroke="#333333" stroke-width="1.05"/>
<text x="436.4" y="226.7" font-size="8.8" fill="#3a3a3a" stroke="#3a3a3a" text-anchor="middle" >40</text>
<path d="M471.1,215.0V217.6" stroke="#333333" stroke-width="1.05"/>
<text x="471.1" y="226.7" font-size="8.8" fill="#3a3a3a" stroke="#3a3a3a" text-anchor="middle" >60</text>
<path d="M505.8,215.0V217.6" stroke="#333333" stroke-width="1.05"/>
<text x="505.8" y="226.7" font-size="8.8" fill="#3a3a3a" stroke="#3a3a3a" text-anchor="middle" >80</text>
<path d="M540.5,215.0V217.6" stroke="#333333" stroke-width="1.05"/>
<text x="540.5" y="226.7" font-size="8.8" fill="#3a3a3a" stroke="#3a3a3a" text-anchor="middle" >100</text>
<path d="M575.2,215.0V217.6" stroke="#333333" stroke-width="1.05"/>
<text x="575.2" y="226.7" font-size="8.8" fill="#3a3a3a" stroke="#3a3a3a" text-anchor="middle" >120</text>
<text x="0" y="0" font-size="10.35" fill="#1a1a1a" stroke="#1a1a1a" text-anchor="middle" transform="translate(331.6,121.8) rotate(-90)">Event Free Probability</text>
<text x="471.0" y="239.0" font-size="10.3" fill="#1a1a1a" stroke="#1a1a1a" text-anchor="middle" >Event-free Survival (months)</text>
<path d="M367.10,35.90 L367.10,50.20 L367.90,50.20 L367.90,50.40 L368.70,50.40 L368.70,50.60 L369.50,50.60 L369.50,50.80 L370.30,50.80 L370.30,51.00 L371.12,51.00 L371.12,52.05 L371.95,52.05 L371.95,53.10 L372.78,53.10 L372.78,54.15 L373.60,54.15 L373.60,55.20 L374.43,55.20 L374.43,56.73 L375.27,56.73 L375.27,58.27 L376.10,58.27 L376.10,59.80 L376.93,59.80 L376.93,61.33 L377.77,61.33 L377.77,62.87 L378.60,62.87 L378.60,64.40 L379.45,64.40 L379.45,65.93 L380.30,65.93 L380.30,67.47 L381.15,67.47 L381.15,69.00 L382.00,69.00 L382.00,70.53 L382.85,70.53 L382.85,72.07 L383.70,72.07 L383.70,73.60 L384.52,73.60 L384.52,75.70 L385.35,75.70 L385.35,77.80 L386.18,77.80 L386.18,79.90 L387.00,79.90 L387.00,82.00 L387.85,82.00 L387.85,84.10 L388.70,84.10 L388.70,86.20 L389.55,86.20 L389.55,88.30 L390.40,88.30 L390.40,90.40 L391.23,90.40 L391.23,92.63 L392.07,92.63 L392.07,94.87 L392.90,94.87 L392.90,97.10 L393.73,97.10 L393.73,99.33 L394.57,99.33 L394.57,101.57 L395.40,101.57 L395.40,103.80 L396.26,103.80 L396.26,104.74 L397.12,104.74 L397.12,105.68 L397.98,105.68 L397.98,106.62 L398.84,106.62 L398.84,107.56 L399.70,107.56 L399.70,108.50 L400.52,108.50 L400.52,108.90 L401.34,108.90 L401.34,109.30 L402.16,109.30 L402.16,109.70 L402.98,109.70 L402.98,110.10 L403.80,110.10 L403.80,110.50 L404.63,110.50 L404.63,110.91 L405.46,110.91 L405.46,111.32 L406.29,111.32 L406.29,111.73 L407.12,111.73 L407.12,112.14 L407.95,112.14 L407.95,112.55 L408.78,112.55 L408.78,112.96 L409.61,112.96 L409.61,113.37 L410.44,113.37 L410.44,113.78 L411.27,113.78 L411.27,114.19 L412.10,114.19 L412.10,114.60 L412.89,114.60 L412.89,114.77 L413.68,114.77 L413.68,114.94 L414.47,114.94 L414.47,115.11 L415.26,115.11 L415.26,115.28 L416.05,115.28 L416.05,115.45 L416.84,115.45 L416.84,115.62 L417.63,115.62 L417.63,115.79 L418.42,115.79 L418.42,115.96 L419.21,115.96 L419.21,116.13 L420.00,116.13 L420.00,116.30 L420.76,116.30 L420.76,116.44 L421.51,116.44 L421.51,116.59 L422.27,116.59 L422.27,116.73 L423.02,116.73 L423.02,116.88 L423.78,116.88 L423.78,117.02 L424.53,117.02 L424.53,117.17 L425.29,117.17 L425.29,117.31 L426.04,117.31 L426.04,117.46 L426.80,117.46 L426.80,117.60 L443.50,117.60 L444.30,117.60 L444.30,117.66 L445.10,117.66 L445.10,117.71 L445.90,117.71 L445.90,117.77 L446.70,117.77 L446.70,117.83 L447.50,117.83 L447.50,117.89 L448.30,117.89 L448.30,117.94 L449.10,117.94 L449.10,118.00 L449.90,118.00 L449.90,118.06 L450.70,118.06 L450.70,118.11 L451.50,118.11 L451.50,118.17 L452.30,118.17 L452.30,118.23 L453.10,118.23 L453.10,118.29 L453.90,118.29 L453.90,118.34 L454.70,118.34 L454.70,118.40 L455.50,118.40 L455.50,118.46 L456.30,118.46 L456.30,118.51 L457.10,118.51 L457.10,118.57 L457.90,118.57 L457.90,118.63 L458.70,118.63 L458.70,118.69 L459.50,118.69 L459.50,118.74 L460.30,118.74 L460.30,118.80 L461.13,118.80 L461.13,118.94 L461.96,118.94 L461.96,119.08 L462.79,119.08 L462.79,119.22 L463.62,119.22 L463.62,119.36 L464.45,119.36 L464.45,119.50 L465.28,119.50 L465.28,119.64 L466.11,119.64 L466.11,119.78 L466.94,119.78 L466.94,119.92 L467.77,119.92 L467.77,120.06 L468.60,120.06 L468.60,120.20 L469.44,120.20 L469.44,120.28 L470.28,120.28 L470.28,120.36 L471.12,120.36 L471.12,120.44 L471.96,120.44 L471.96,120.52 L472.80,120.52 L472.80,120.60 L473.64,120.60 L473.64,120.68 L474.48,120.68 L474.48,120.76 L475.32,120.76 L475.32,120.84 L476.16,120.84 L476.16,120.92 L477.00,120.92 L477.00,121.00 L508.00,120.80 L508.81,120.80 L508.81,120.86 L509.63,120.86 L509.63,120.92 L510.44,120.92 L510.44,120.98 L511.25,120.98 L511.25,121.04 L512.07,121.04 L512.07,121.10 L512.88,121.10 L512.88,121.17 L513.69,121.17 L513.69,121.23 L514.50,121.23 L514.50,121.29 L515.32,121.29 L515.32,121.35 L516.13,121.35 L516.13,121.41 L516.94,121.41 L516.94,121.47 L517.76,121.47 L517.76,121.53 L518.57,121.53 L518.57,121.59 L519.38,121.59 L519.38,121.65 L520.20,121.65 L520.20,121.71 L521.01,121.71 L521.01,121.77 L521.82,121.77 L521.82,121.83 L522.63,121.83 L522.63,121.90 L523.45,121.90 L523.45,121.96 L524.26,121.96 L524.26,122.02 L525.07,122.02 L525.07,122.08 L525.89,122.08 L525.89,122.14 L526.70,122.14 L526.70,122.20 L527.48,122.20 L527.48,122.39 L528.26,122.39 L528.26,122.57 L529.04,122.57 L529.04,122.76 L529.82,122.76 L529.82,122.95 L530.60,122.95 L530.60,123.13 L531.38,123.13 L531.38,123.32 L532.16,123.32 L532.16,123.51 L532.94,123.51 L532.94,123.69 L533.72,123.69 L533.72,123.88 L534.50,123.88 L534.50,124.07 L535.28,124.07 L535.28,124.25 L536.06,124.25 L536.06,124.44 L536.84,124.44 L536.84,124.63 L537.62,124.63 L537.62,124.81 L538.40,124.81 L538.40,125.00 L539.20,125.00 L539.20,125.01 L540.01,125.01 L540.01,125.02 L540.81,125.02 L540.81,125.03 L541.62,125.03 L541.62,125.05 L542.42,125.05 L542.42,125.06 L543.23,125.06 L543.23,125.07 L544.03,125.07 L544.03,125.08 L544.84,125.08 L544.84,125.09 L545.64,125.09 L545.64,125.11 L546.45,125.11 L546.45,125.12 L547.25,125.12 L547.25,125.13 L548.06,125.13 L548.06,125.14 L548.87,125.14 L548.87,125.15 L549.67,125.15 L549.67,125.16 L550.48,125.16 L550.48,125.17 L551.28,125.17 L551.28,125.19 L552.09,125.19 L552.09,125.20 L552.89,125.20 L552.89,125.21 L553.70,125.21 L553.70,125.22 L554.50,125.22 L554.50,125.23 L555.30,125.23 L555.30,125.25 L556.11,125.25 L556.11,125.26 L556.91,125.26 L556.91,125.27 L557.72,125.27 L557.72,125.28 L558.52,125.28 L558.52,125.29 L559.33,125.29 L559.33,125.30 L560.13,125.30 L560.13,125.31 L560.94,125.31 L560.94,125.33 L561.75,125.33 L561.75,125.34 L562.55,125.34 L562.55,125.35 L563.36,125.35 L563.36,125.36 L564.16,125.36 L564.16,125.37 L564.97,125.37 L564.97,125.39 L565.77,125.39 L565.77,125.40 L566.58,125.40 L566.58,125.41 L567.38,125.41 L567.38,125.42 L568.19,125.42 L568.19,125.43 L568.99,125.43 L568.99,125.44 L569.80,125.44 L569.80,125.45 L570.60,125.45 L570.60,125.47 L571.40,125.47 L571.40,125.48 L572.21,125.48 L572.21,125.49 L573.01,125.49 L573.01,125.50 L573.82,125.50 L573.82,125.51 L574.62,125.51 L574.62,125.53 L575.43,125.53 L575.43,125.54 L576.24,125.54 L576.24,125.55 L577.04,125.55 L577.04,125.56 L577.85,125.56 L577.85,125.57 L578.65,125.57 L578.65,125.58 L579.46,125.58 L579.46,125.59 L580.26,125.59 L580.26,125.61 L581.07,125.61 L581.07,125.62 L581.87,125.62 L581.87,125.63 L582.68,125.63 L582.68,125.64 L583.48,125.64 L583.48,125.65 L584.29,125.65 L584.29,125.67 L585.09,125.67 L585.09,125.68 L585.90,125.68 L585.90,125.69 L586.70,125.69 L586.70,125.70" fill="none" stroke="#3d80bf" stroke-width="1.4" stroke-linejoin="miter"/>
<path d="M367.10,35.90 L367.10,70.30 L367.90,70.30 L367.90,70.50 L368.70,70.50 L368.70,70.70 L369.50,70.70 L369.50,70.90 L370.30,70.90 L370.30,71.10 L371.12,71.10 L371.12,72.15 L371.95,72.15 L371.95,73.20 L372.78,73.20 L372.78,74.25 L373.60,74.25 L373.60,75.30 L374.45,75.30 L374.45,79.90 L375.30,79.90 L375.30,84.50 L376.15,84.50 L376.15,89.10 L377.00,89.10 L377.00,93.70 L377.82,93.70 L377.82,96.22 L378.65,96.22 L378.65,98.75 L379.48,98.75 L379.48,101.28 L380.30,101.28 L380.30,103.80 L381.07,103.80 L381.07,108.40 L381.83,108.40 L381.83,113.00 L382.60,113.00 L382.60,117.60 L383.41,117.60 L383.41,120.04 L384.23,120.04 L384.23,122.49 L385.04,122.49 L385.04,124.93 L385.86,124.93 L385.86,127.37 L386.67,127.37 L386.67,129.81 L387.49,129.81 L387.49,132.26 L388.30,132.26 L388.30,134.70 L389.11,134.70 L389.11,136.31 L389.93,136.31 L389.93,137.93 L390.74,137.93 L390.74,139.54 L391.56,139.54 L391.56,141.16 L392.37,141.16 L392.37,142.77 L393.19,142.77 L393.19,144.39 L394.00,144.39 L394.00,146.00 L394.76,146.00 L394.76,146.39 L395.52,146.39 L395.52,146.78 L396.28,146.78 L396.28,147.17 L397.04,147.17 L397.04,147.56 L397.80,147.56 L397.80,147.95 L398.56,147.95 L398.56,148.34 L399.32,148.34 L399.32,148.73 L400.08,148.73 L400.08,149.12 L400.84,149.12 L400.84,149.51 L401.60,149.51 L401.60,149.90 L402.44,149.90 L402.44,150.52 L403.29,150.52 L403.29,151.14 L404.13,151.14 L404.13,151.77 L404.98,151.77 L404.98,152.39 L405.82,152.39 L405.82,153.01 L406.67,153.01 L406.67,153.63 L407.51,153.63 L407.51,154.26 L408.36,154.26 L408.36,154.88 L409.20,154.88 L409.20,155.50 L410.04,155.50 L410.04,155.71 L410.87,155.71 L410.87,155.92 L411.71,155.92 L411.71,156.13 L412.55,156.13 L412.55,156.34 L413.38,156.34 L413.38,156.55 L414.22,156.55 L414.22,156.75 L415.05,156.75 L415.05,156.96 L415.89,156.96 L415.89,157.17 L416.73,157.17 L416.73,157.38 L417.56,157.38 L417.56,157.59 L418.40,157.59 L418.40,157.80 L419.16,157.80 L419.16,158.11 L419.93,158.11 L419.93,158.42 L420.69,158.42 L420.69,158.73 L421.45,158.73 L421.45,159.04 L422.22,159.04 L422.22,159.35 L422.98,159.35 L422.98,159.65 L423.75,159.65 L423.75,159.96 L424.51,159.96 L424.51,160.27 L425.27,160.27 L425.27,160.58 L426.04,160.58 L426.04,160.89 L426.80,160.89 L426.80,161.20 L427.60,161.20 L427.60,161.36 L428.39,161.36 L428.39,161.51 L429.19,161.51 L429.19,161.67 L429.98,161.67 L429.98,161.83 L430.78,161.83 L430.78,161.99 L431.57,161.99 L431.57,162.14 L432.37,162.14 L432.37,162.30 L433.16,162.30 L433.16,162.46 L433.96,162.46 L433.96,162.61 L434.75,162.61 L434.75,162.77 L435.55,162.77 L435.55,162.93 L436.34,162.93 L436.34,163.09 L437.14,163.09 L437.14,163.24 L437.93,163.24 L437.93,163.40 L438.73,163.40 L438.73,163.56 L439.52,163.56 L439.52,163.71 L440.32,163.71 L440.32,163.87 L441.11,163.87 L441.11,164.03 L441.91,164.03 L441.91,164.19 L442.70,164.19 L442.70,164.34 L443.50,164.34 L443.50,164.50 L444.29,164.50 L444.29,164.65 L445.08,164.65 L445.08,164.79 L445.86,164.79 L445.86,164.94 L446.65,164.94 L446.65,165.09 L447.44,165.09 L447.44,165.24 L448.23,165.24 L448.23,165.38 L449.02,165.38 L449.02,165.53 L449.81,165.53 L449.81,165.68 L450.59,165.68 L450.59,165.82 L451.38,165.82 L451.38,165.97 L452.17,165.97 L452.17,166.12 L452.96,166.12 L452.96,166.26 L453.75,166.26 L453.75,166.41 L454.54,166.41 L454.54,166.56 L455.32,166.56 L455.32,166.71 L456.11,166.71 L456.11,166.85 L456.90,166.85 L456.90,167.00 L457.68,167.00 L457.68,167.23 L458.46,167.23 L458.46,167.45 L459.24,167.45 L459.24,167.68 L460.02,167.68 L460.02,167.91 L460.80,167.91 L460.80,168.13 L461.58,168.13 L461.58,168.36 L462.36,168.36 L462.36,168.59 L463.14,168.59 L463.14,168.81 L463.92,168.81 L463.92,169.04 L464.70,169.04 L464.70,169.27 L465.48,169.27 L465.48,169.49 L466.26,169.49 L466.26,169.72 L467.04,169.72 L467.04,169.95 L467.82,169.95 L467.82,170.17 L468.60,170.17 L468.60,170.40 L469.41,170.40 L469.41,170.50 L470.23,170.50 L470.23,170.60 L471.04,170.60 L471.04,170.70 L471.86,170.70 L471.86,170.80 L472.67,170.80 L472.67,170.90 L473.49,170.90 L473.49,171.00 L474.30,171.00 L474.30,171.10 L475.11,171.10 L475.11,171.20 L475.93,171.20 L475.93,171.30 L476.74,171.30 L476.74,171.40 L477.56,171.40 L477.56,171.50 L478.37,171.50 L478.37,171.60 L479.19,171.60 L479.19,171.70 L480.00,171.70 L480.00,171.80 L582.00,172.00 L583.00,172.00 L583.00,175.30 L586.70,175.30" fill="none" stroke="#5cb748" stroke-width="1.4" stroke-linejoin="miter"/>
<path d="M367.10,35.90 L367.10,108.80 L370.30,108.80 L371.10,108.80 L371.10,109.65 L371.90,109.65 L371.90,110.50 L372.73,110.50 L372.73,112.95 L373.57,112.95 L373.57,115.40 L374.40,115.40 L374.40,117.85 L375.23,117.85 L375.23,120.30 L376.07,120.30 L376.07,122.75 L376.90,122.75 L376.90,125.20 L377.71,125.20 L377.71,127.91 L378.53,127.91 L378.53,130.63 L379.34,130.63 L379.34,133.34 L380.16,133.34 L380.16,136.06 L380.97,136.06 L380.97,138.77 L381.79,138.77 L381.79,141.49 L382.60,141.49 L382.60,144.20 L383.41,144.20 L383.41,146.09 L384.23,146.09 L384.23,147.97 L385.04,147.97 L385.04,149.86 L385.86,149.86 L385.86,151.74 L386.67,151.74 L386.67,153.63 L387.49,153.63 L387.49,155.51 L388.30,155.51 L388.30,157.40 L389.06,157.40 L389.06,158.92 L389.82,158.92 L389.82,160.44 L390.58,160.44 L390.58,161.96 L391.34,161.96 L391.34,163.48 L392.10,163.48 L392.10,165.00 L392.94,165.00 L392.94,165.63 L393.79,165.63 L393.79,166.27 L394.63,166.27 L394.63,166.90 L395.48,166.90 L395.48,167.53 L396.32,167.53 L396.32,168.17 L397.17,168.17 L397.17,168.80 L398.01,168.80 L398.01,169.43 L398.86,169.43 L398.86,170.07 L399.70,170.07 L399.70,170.70 L400.46,170.70 L400.46,171.08 L401.22,171.08 L401.22,171.46 L401.98,171.46 L401.98,171.84 L402.74,171.84 L402.74,172.22 L403.50,172.22 L403.50,172.60 L404.26,172.60 L404.26,172.98 L405.02,172.98 L405.02,173.36 L405.78,173.36 L405.78,173.74 L406.54,173.74 L406.54,174.12 L407.30,174.12 L407.30,174.50 L408.20,174.50 L408.20,175.47 L409.10,175.47 L409.10,176.43 L410.00,176.43 L410.00,177.40 L410.84,177.40 L410.84,177.54 L411.68,177.54 L411.68,177.68 L412.52,177.68 L412.52,177.82 L413.36,177.82 L413.36,177.96 L414.20,177.96 L414.20,178.10 L415.04,178.10 L415.04,178.24 L415.88,178.24 L415.88,178.38 L416.72,178.38 L416.72,178.52 L417.56,178.52 L417.56,178.66 L418.40,178.66 L418.40,178.80 L419.16,178.80 L419.16,179.03 L419.93,179.03 L419.93,179.25 L420.69,179.25 L420.69,179.48 L421.45,179.48 L421.45,179.71 L422.22,179.71 L422.22,179.94 L422.98,179.94 L422.98,180.16 L423.75,180.16 L423.75,180.39 L424.51,180.39 L424.51,180.62 L425.27,180.62 L425.27,180.85 L426.04,180.85 L426.04,181.07 L426.80,181.07 L426.80,181.30 L427.60,181.30 L427.60,181.34 L428.39,181.34 L428.39,181.38 L429.19,181.38 L429.19,181.41 L429.98,181.41 L429.98,181.45 L430.78,181.45 L430.78,181.49 L431.57,181.49 L431.57,181.53 L432.37,181.53 L432.37,181.57 L433.16,181.57 L433.16,181.60 L433.96,181.60 L433.96,181.64 L434.75,181.64 L434.75,181.68 L435.55,181.68 L435.55,181.72 L436.34,181.72 L436.34,181.76 L437.14,181.76 L437.14,181.80 L437.93,181.80 L437.93,181.83 L438.73,181.83 L438.73,181.87 L439.52,181.87 L439.52,181.91 L440.32,181.91 L440.32,181.95 L441.11,181.95 L441.11,181.99 L441.91,181.99 L441.91,182.02 L442.70,182.02 L442.70,182.06 L443.50,182.06 L443.50,182.10 L444.30,182.10 L444.30,182.18 L445.10,182.18 L445.10,182.26 L445.90,182.26 L445.90,182.34 L446.70,182.34 L446.70,182.42 L447.50,182.42 L447.50,182.50 L448.30,182.50 L448.30,182.59 L449.10,182.59 L449.10,182.67 L449.90,182.67 L449.90,182.75 L450.70,182.75 L450.70,182.83 L451.50,182.83 L451.50,182.91 L452.30,182.91 L452.30,182.99 L453.10,182.99 L453.10,183.07 L453.90,183.07 L453.90,183.15 L454.70,183.15 L454.70,183.23 L455.50,183.23 L455.50,183.31 L456.30,183.31 L456.30,183.40 L457.10,183.40 L457.10,183.48 L457.90,183.48 L457.90,183.56 L458.70,183.56 L458.70,183.64 L459.50,183.64 L459.50,183.72 L460.30,183.72 L460.30,183.80 L461.10,183.80 L461.10,183.86 L461.89,183.86 L461.89,183.92 L462.69,183.92 L462.69,183.99 L463.48,183.99 L463.48,184.05 L464.28,184.05 L464.28,184.11 L465.07,184.11 L465.07,184.17 L465.87,184.17 L465.87,184.23 L466.66,184.23 L466.66,184.30 L467.46,184.30 L467.46,184.36 L468.25,184.36 L468.25,184.42 L469.05,184.42 L469.05,184.48 L469.84,184.48 L469.84,184.54 L470.64,184.54 L470.64,184.60 L471.43,184.60 L471.43,184.67 L472.23,184.67 L472.23,184.73 L473.02,184.73 L473.02,184.79 L473.82,184.79 L473.82,184.85 L474.61,184.85 L474.61,184.91 L475.41,184.91 L475.41,184.98 L476.20,184.98 L476.20,185.04 L477.00,185.04 L477.00,185.10 L496.40,185.10 L497.27,185.10 L497.27,185.53 L498.15,185.53 L498.15,185.95 L499.02,185.95 L499.02,186.38 L499.90,186.38 L499.90,186.80 L586.70,186.80" fill="none" stroke="#d0242a" stroke-width="1.4" stroke-linejoin="miter"/>
<path d="M367.10,35.90 L367.10,79.50 L367.90,79.50 L367.90,79.90 L368.70,79.90 L368.70,80.30 L369.50,80.30 L369.50,80.70 L370.30,80.70 L370.30,81.10 L371.10,81.10 L371.10,85.75 L371.90,85.75 L371.90,90.40 L372.75,90.40 L372.75,91.23 L373.60,91.23 L373.60,92.05 L374.45,92.05 L374.45,92.88 L375.30,92.88 L375.30,93.70 L376.12,93.70 L376.12,97.90 L376.95,97.90 L376.95,102.10 L377.78,102.10 L377.78,106.30 L378.60,106.30 L378.60,110.50 L379.30,110.50 L379.30,116.67 L380.00,116.67 L380.00,122.83 L380.70,122.83 L380.70,129.00 L381.51,129.00 L381.51,130.63 L382.33,130.63 L382.33,132.26 L383.14,132.26 L383.14,133.89 L383.96,133.89 L383.96,135.51 L384.77,135.51 L384.77,137.14 L385.59,137.14 L385.59,138.77 L386.40,138.77 L386.40,140.40 L387.21,140.40 L387.21,141.07 L388.03,141.07 L388.03,141.74 L388.84,141.74 L388.84,142.41 L389.66,142.41 L389.66,143.09 L390.47,143.09 L390.47,143.76 L391.29,143.76 L391.29,144.43 L392.10,144.43 L392.10,145.10 L392.91,145.10 L392.91,145.91 L393.73,145.91 L393.73,146.73 L394.54,146.73 L394.54,147.54 L395.36,147.54 L395.36,148.36 L396.17,148.36 L396.17,149.17 L396.99,149.17 L396.99,149.99 L397.80,149.99 L397.80,150.80 L398.61,150.80 L398.61,151.74 L399.43,151.74 L399.43,152.69 L400.24,152.69 L400.24,153.63 L401.06,153.63 L401.06,154.57 L401.87,154.57 L401.87,155.51 L402.69,155.51 L402.69,156.46 L403.50,156.46 L403.50,157.40 L404.26,157.40 L404.26,157.78 L405.02,157.78 L405.02,158.16 L405.78,158.16 L405.78,158.54 L406.54,158.54 L406.54,158.92 L407.30,158.92 L407.30,159.30 L408.06,159.30 L408.06,159.68 L408.82,159.68 L408.82,160.06 L409.58,160.06 L409.58,160.44 L410.34,160.44 L410.34,160.82 L411.10,160.82 L411.10,161.20 L411.91,161.20 L411.91,161.29 L412.72,161.29 L412.72,161.38 L413.53,161.38 L413.53,161.47 L414.34,161.47 L414.34,161.56 L415.16,161.56 L415.16,161.64 L415.97,161.64 L415.97,161.73 L416.78,161.73 L416.78,161.82 L417.59,161.82 L417.59,161.91 L418.40,161.91 L418.40,162.00 L419.20,162.00 L419.20,162.04 L419.99,162.04 L419.99,162.09 L420.79,162.09 L420.79,162.13 L421.58,162.13 L421.58,162.17 L422.38,162.17 L422.38,162.21 L423.17,162.21 L423.17,162.26 L423.97,162.26 L423.97,162.30 L424.76,162.30 L424.76,162.34 L425.56,162.34 L425.56,162.39 L426.35,162.39 L426.35,162.43 L427.15,162.43 L427.15,162.47 L427.94,162.47 L427.94,162.51 L428.74,162.51 L428.74,162.56 L429.53,162.56 L429.53,162.60 L430.33,162.60 L430.33,162.64 L431.12,162.64 L431.12,162.69 L431.92,162.69 L431.92,162.73 L432.71,162.73 L432.71,162.77 L433.51,162.77 L433.51,162.81 L434.30,162.81 L434.30,162.86 L435.10,162.86 L435.10,162.90 L451.90,163.20 L497.50,163.20 L498.70,163.20 L498.70,167.10 L499.51,167.10 L499.51,167.15 L500.32,167.15 L500.32,167.20 L501.12,167.20 L501.12,167.25 L501.93,167.25 L501.93,167.29 L502.74,167.29 L502.74,167.34 L503.55,167.34 L503.55,167.39 L504.35,167.39 L504.35,167.44 L505.16,167.44 L505.16,167.49 L505.97,167.49 L505.97,167.54 L506.78,167.54 L506.78,167.59 L507.58,167.59 L507.58,167.64 L508.39,167.64 L508.39,167.68 L509.20,167.68 L509.20,167.73 L510.01,167.73 L510.01,167.78 L510.82,167.78 L510.82,167.83 L511.62,167.83 L511.62,167.88 L512.43,167.88 L512.43,167.93 L513.24,167.93 L513.24,167.98 L514.05,167.98 L514.05,168.03 L514.85,168.03 L514.85,168.07 L515.66,168.07 L515.66,168.12 L516.47,168.12 L516.47,168.17 L517.28,168.17 L517.28,168.22 L518.08,168.22 L518.08,168.27 L518.89,168.27 L518.89,168.32 L519.70,168.32 L519.70,168.37 L520.51,168.37 L520.51,168.42 L521.32,168.42 L521.32,168.46 L522.12,168.46 L522.12,168.51 L522.93,168.51 L522.93,168.56 L523.74,168.56 L523.74,168.61 L524.55,168.61 L524.55,168.66 L525.35,168.66 L525.35,168.71 L526.16,168.71 L526.16,168.76 L526.97,168.76 L526.97,168.81 L527.78,168.81 L527.78,168.85 L528.58,168.85 L528.58,168.90 L529.39,168.90 L529.39,168.95 L530.20,168.95 L530.20,169.00 L531.40,169.00 L531.40,175.30 L581.60,175.30 L582.80,175.30 L582.80,178.30 L586.70,178.30" fill="none" stroke="#f08c28" stroke-width="1.4" stroke-linejoin="miter"/>
<path d="M367.0,50.7h4.0M369.0,47.7v6.0M369.0,51.9h4.0M371.0,48.9v6.0M370.0,53.2h4.0M372.0,50.2v6.0M372.0,55.9h4.0M374.0,52.9v6.0M374.0,59.6h4.0M376.0,56.6v6.0M377.0,65.1h4.0M379.0,62.1v6.0M383.0,76.9h4.0M385.0,73.9v6.0M385.0,82.0h4.0M387.0,79.0v6.0M390.8,96.8h4.0M392.8,93.8v6.0M393.6,104.0h4.0M395.6,101.0v6.0M395.6,106.2h4.0M397.6,103.2v6.0M397.1,107.8h4.0M399.1,104.8v6.0M399.3,109.3h4.0M401.3,106.3v6.0M401.4,110.3h4.0M403.4,107.3v6.0M403.6,111.4h4.0M405.6,108.4v6.0M405.7,112.4h4.0M407.7,109.4v6.0M407.7,113.4h4.0M409.7,110.4v6.0M409.8,114.5h4.0M411.8,111.5v6.0M412.3,115.1h4.0M414.3,112.1v6.0M413.9,115.4h4.0M415.9,112.4v6.0M415.8,115.8h4.0M417.8,112.8v6.0M418.3,116.4h4.0M420.3,113.4v6.0M419.5,116.6h4.0M421.5,113.6v6.0M422.6,117.2h4.0M424.6,114.2v6.0M427.0,117.6h4.0M429.0,114.6v6.0M429.2,117.6h4.0M431.2,114.6v6.0M432.2,117.6h4.0M434.2,114.6v6.0M434.2,117.6h4.0M436.2,114.6v6.0M438.1,117.6h4.0M440.1,114.6v6.0M441.4,117.6h4.0M443.4,114.6v6.0M443.3,117.7h4.0M445.3,114.7v6.0M447.6,118.0h4.0M449.6,115.0v6.0M450.6,118.3h4.0M452.6,115.3v6.0M452.5,118.4h4.0M454.5,115.4v6.0M456.7,118.7h4.0M458.7,115.7v6.0M459.4,119.0h4.0M461.4,116.0v6.0M462.9,119.6h4.0M464.9,116.6v6.0M465.3,120.0h4.0M467.3,117.0v6.0M469.0,120.4h4.0M471.0,117.4v6.0M472.1,120.7h4.0M474.1,117.7v6.0M473.7,120.9h4.0M475.7,117.9v6.0M476.8,121.0h4.0M478.8,118.0v6.0M481.1,121.0h4.0M483.1,118.0v6.0M484.7,120.9h4.0M486.7,117.9v6.0M486.3,120.9h4.0M488.3,117.9v6.0M489.8,120.9h4.0M491.8,117.9v6.0M493.1,120.9h4.0M495.1,117.9v6.0M495.6,120.9h4.0M497.6,117.9v6.0M498.7,120.8h4.0M500.7,117.8v6.0M501.6,120.8h4.0M503.6,117.8v6.0M504.8,120.8h4.0M506.8,117.8v6.0M508.3,121.0h4.0M510.3,118.0v6.0M510.7,121.2h4.0M512.7,118.2v6.0M513.9,121.4h4.0M515.9,118.4v6.0M517.7,121.7h4.0M519.7,118.7v6.0M519.3,121.8h4.0M521.3,118.8v6.0M523.4,122.1h4.0M525.4,119.1v6.0M526.8,122.7h4.0M528.8,119.7v6.0M529.0,123.2h4.0M531.0,120.2v6.0M531.8,123.9h4.0M533.8,120.9v6.0M536.0,124.9h4.0M538.0,121.9v6.0M537.9,125.0h4.0M539.9,122.0v6.0M540.9,125.1h4.0M542.9,122.1v6.0M544.4,125.1h4.0M546.4,122.1v6.0M548.0,125.2h4.0M550.0,122.2v6.0M549.8,125.2h4.0M551.8,122.2v6.0M553.3,125.2h4.0M555.3,122.2v6.0M556.3,125.3h4.0M558.3,122.3v6.0M560.4,125.3h4.0M562.4,122.3v6.0M562.6,125.4h4.0M564.6,122.4v6.0M566.5,125.4h4.0M568.5,122.4v6.0M568.2,125.5h4.0M570.2,122.5v6.0M571.5,125.5h4.0M573.5,122.5v6.0M575.2,125.6h4.0M577.2,122.6v6.0M578.7,125.6h4.0M580.7,122.6v6.0M580.9,125.6h4.0M582.9,122.6v6.0M583.5,125.7h4.0M585.5,122.7v6.0" fill="none" stroke="#3d80bf" stroke-width="1.1"/>
<path d="M366.5,70.6h4.0M368.5,67.6v6.0M368.0,71.0h4.0M370.0,68.0v6.0M372.0,77.5h4.0M374.0,74.5v6.0M376.0,96.8h4.0M378.0,93.8v6.0M379.0,108.0h4.0M381.0,105.0v6.0M382.0,121.8h4.0M384.0,118.8v6.0M386.0,133.8h4.0M388.0,130.8v6.0M388.0,138.1h4.0M390.0,135.1v6.0M391.0,144.0h4.0M393.0,141.0v6.0M394.0,147.0h4.0M396.0,144.0v6.0M397.0,148.6h4.0M399.0,145.6v6.0M400.0,150.2h4.0M402.0,147.2v6.0M402.0,151.7h4.0M404.0,148.7v6.0M404.0,153.1h4.0M406.0,150.1v6.0M407.0,155.4h4.0M409.0,152.4v6.0M410.0,156.2h4.0M412.0,153.2v6.0M412.0,156.7h4.0M414.0,153.7v6.0M416.0,157.7h4.0M418.0,154.7v6.0M419.0,158.9h4.0M421.0,155.9v6.0M422.0,160.1h4.0M424.0,157.1v6.0M425.0,161.2h4.0M427.0,158.2v6.0M430.0,162.2h4.0M432.0,159.2v6.0M434.0,163.0h4.0M436.0,160.0v6.0M441.0,164.4h4.0M443.0,161.4v6.0M446.0,165.3h4.0M448.0,162.3v6.0M457.0,167.6h4.0M459.0,164.6v6.0M473.0,171.2h4.0M475.0,168.2v6.0M475.0,171.4h4.0M477.0,168.4v6.0M479.0,171.8h4.0M481.0,168.8v6.0M482.0,171.8h4.0M484.0,168.8v6.0M486.0,171.8h4.0M488.0,168.8v6.0M489.0,171.8h4.0M491.0,168.8v6.0M495.0,171.8h4.0M497.0,168.8v6.0M518.0,171.9h4.0M520.0,168.9v6.0M546.0,171.9h4.0M548.0,168.9v6.0M575.0,172.0h4.0M577.0,169.0v6.0" fill="none" stroke="#5cb748" stroke-width="1.1"/>
<path d="M367.0,80.4h4.0M369.0,77.4v6.0M369.0,85.2h4.0M371.0,82.2v6.0M371.0,91.5h4.0M373.0,88.5v6.0M375.0,102.4h4.0M377.0,99.4v6.0M378.0,122.8h4.0M380.0,119.8v6.0M384.0,139.6h4.0M386.0,136.6v6.0M388.0,143.4h4.0M390.0,140.4v6.0M392.0,147.0h4.0M394.0,144.0v6.0M397.0,152.2h4.0M399.0,149.2v6.0M402.0,157.7h4.0M404.0,154.7v6.0M404.0,158.7h4.0M406.0,155.7v6.0M407.0,160.1h4.0M409.0,157.1v6.0M409.0,161.1h4.0M411.0,158.1v6.0M414.0,161.7h4.0M416.0,158.7v6.0M423.0,162.4h4.0M425.0,159.4v6.0M429.0,162.7h4.0M431.0,159.7v6.0M441.0,163.0h4.0M443.0,160.0v6.0M444.0,163.1h4.0M446.0,160.1v6.0M448.0,163.2h4.0M450.0,160.2v6.0M450.0,163.2h4.0M452.0,160.2v6.0M457.0,163.2h4.0M459.0,160.2v6.0M459.0,163.2h4.0M461.0,160.2v6.0M462.0,163.2h4.0M464.0,160.2v6.0M480.0,163.2h4.0M482.0,160.2v6.0M484.0,163.2h4.0M486.0,160.2v6.0M488.0,163.2h4.0M490.0,160.2v6.0M516.0,168.3h4.0M518.0,165.3v6.0M550.0,175.3h4.0M552.0,172.3v6.0M556.0,175.3h4.0M558.0,172.3v6.0" fill="none" stroke="#f08c28" stroke-width="1.1"/>
<path d="M390.0,164.8h4.0M392.0,161.8v6.0M396.5,169.8h4.0M398.5,166.8v6.0M401.5,172.6h4.0M403.5,169.6v6.0M406.5,175.8h4.0M408.5,172.8v6.0M408.5,177.5h4.0M410.5,174.5v6.0M413.0,178.2h4.0M415.0,175.2v6.0M414.5,178.5h4.0M416.5,175.5v6.0M416.0,178.7h4.0M418.0,175.7v6.0M417.5,179.1h4.0M419.5,176.1v6.0M419.0,179.6h4.0M421.0,176.6v6.0M425.0,181.3h4.0M427.0,178.3v6.0M431.5,181.6h4.0M433.5,178.6v6.0M447.0,182.7h4.0M449.0,179.7v6.0M450.0,183.0h4.0M452.0,180.0v6.0M462.0,184.1h4.0M464.0,181.1v6.0M470.0,184.7h4.0M472.0,181.7v6.0M473.0,184.9h4.0M475.0,181.9v6.0M489.0,185.1h4.0M491.0,182.1v6.0M491.0,185.1h4.0M493.0,182.1v6.0M507.0,186.8h4.0M509.0,183.8v6.0M514.0,186.8h4.0M516.0,183.8v6.0M519.0,186.8h4.0M521.0,183.8v6.0M528.0,186.8h4.0M530.0,183.8v6.0M534.0,186.8h4.0M536.0,183.8v6.0M536.0,186.8h4.0M538.0,183.8v6.0M539.0,186.8h4.0M541.0,183.8v6.0M544.0,186.8h4.0M546.0,183.8v6.0M547.0,186.8h4.0M549.0,183.8v6.0" fill="none" stroke="#d0242a" stroke-width="1.1"/>
<path d="M95.8,262.6h15.2" stroke="#4472c4" stroke-width="2.6"/>
<text x="123.5" y="266.8" font-size="10.5" fill="#262626" stroke="#262626" text-anchor="start" >Favorable</text>
<path d="M95.8,302.9h15.2" stroke="#92d050" stroke-width="2.6"/>
<text x="123.5" y="307.0" font-size="10.5" fill="#262626" stroke="#262626" text-anchor="start" >Intermediate</text>
<path d="M95.8,341.2h15.2" stroke="#ffc000" stroke-width="2.6"/>
<text x="124.7" y="345.6" font-size="10.5" fill="#262626" stroke="#262626" text-anchor="start" >DNMT3A</text>
<path d="M95.8,380.7h15.2" stroke="#c00000" stroke-width="2.6"/>
<text x="125.9" y="384.9" font-size="10.5" fill="#262626" stroke="#262626" text-anchor="start" >Adverse</text>
<path d="M189.60000000000002,262.1H195.3V300.0H189.60000000000002M195.3,280.6h6.2" fill="none" stroke="#595959" stroke-width="1.05"/>
<text x="215.8" y="283.0" font-size="9.5" fill="#1a1a1a" stroke="#1a1a1a" text-anchor="start" font-style="italic" letter-spacing="-0.15">P&lt;0.001</text>
<path d="M189.60000000000002,302.4H195.3V340.4H189.60000000000002M195.3,321.4h6.2" fill="none" stroke="#595959" stroke-width="1.05"/>
<text x="215.8" y="322.9" font-size="9.5" fill="#1a1a1a" stroke="#1a1a1a" text-anchor="start" font-style="italic" letter-spacing="-0.15">P=0.382</text>
<path d="M189.60000000000002,342.3H195.3V380.5H189.60000000000002M195.3,361.5h6.2" fill="none" stroke="#595959" stroke-width="1.05"/>
<text x="215.8" y="365.0" font-size="9.5" fill="#1a1a1a" stroke="#1a1a1a" text-anchor="start" font-style="italic" letter-spacing="-0.15">P=0.017</text>
<path d="M408.0,265.6h15.2" stroke="#4472c4" stroke-width="2.6"/>
<text x="435.5" y="269.7" font-size="10.5" fill="#262626" stroke="#262626" text-anchor="start" >Favorable</text>
<path d="M408.0,305.3h15.2" stroke="#92d050" stroke-width="2.6"/>
<text x="435.5" y="309.9" font-size="10.5" fill="#262626" stroke="#262626" text-anchor="start" >Intermediate</text>
<path d="M408.0,343.1h15.2" stroke="#ffc000" stroke-width="2.6"/>
<text x="436.7" y="347.6" font-size="10.5" fill="#262626" stroke="#262626" text-anchor="start" >DNMT3A</text>
<path d="M408.0,382.3h15.2" stroke="#c00000" stroke-width="2.6"/>
<text x="437.9" y="386.6" font-size="10.5" fill="#262626" stroke="#262626" text-anchor="start" >Adverse</text>
<path d="M500.8,264.8H506.5V303.0H500.8M506.5,283.4h6.2" fill="none" stroke="#595959" stroke-width="1.05"/>
<text x="526.7" y="286.1" font-size="9.5" fill="#1a1a1a" stroke="#1a1a1a" text-anchor="start" font-style="italic" letter-spacing="-0.15">P&lt;0.001</text>
<path d="M500.8,305.0H506.5V343.3H500.8M506.5,323.4h6.2" fill="none" stroke="#595959" stroke-width="1.05"/>
<text x="526.7" y="326.1" font-size="9.5" fill="#1a1a1a" stroke="#1a1a1a" text-anchor="start" font-style="italic" letter-spacing="-0.15">P=0.469</text>
<path d="M500.8,344.5H506.5V382.3H500.8M506.5,363.4h6.2" fill="none" stroke="#595959" stroke-width="1.05"/>
<text x="526.7" y="366.4" font-size="9.5" fill="#1a1a1a" stroke="#1a1a1a" text-anchor="start" font-style="italic" letter-spacing="-0.15">P=0.013</text>
<path d="M57.6,429.4V655.4H290.6" fill="none" stroke="#333333" stroke-width="1.05"/>
<path d="M55.0,439.4H57.6" stroke="#333333" stroke-width="1.05"/>
<text x="53.7" y="442.79999999999995" font-size="8.8" fill="#3a3a3a" stroke="#3a3a3a" text-anchor="end" >1.00</text>
<path d="M55.0,490.9H57.6" stroke="#333333" stroke-width="1.05"/>
<text x="53.7" y="494.29999999999995" font-size="8.8" fill="#3a3a3a" stroke="#3a3a3a" text-anchor="end" >0.75</text>
<path d="M55.0,542.4H57.6" stroke="#333333" stroke-width="1.05"/>
<text x="53.7" y="545.8" font-size="8.8" fill="#3a3a3a" stroke="#3a3a3a" text-anchor="end" >0.50</text>
<path d="M55.0,593.9H57.6" stroke="#333333" stroke-width="1.05"/>
<text x="53.7" y="597.3" font-size="8.8" fill="#3a3a3a" stroke="#3a3a3a" text-anchor="end" >0.25</text>
<path d="M55.0,645.4H57.6" stroke="#333333" stroke-width="1.05"/>
<text x="53.7" y="648.8" font-size="8.8" fill="#3a3a3a" stroke="#3a3a3a" text-anchor="end" >0.00</text>
<path d="M68.0,655.4V658.0" stroke="#333333" stroke-width="1.05"/>
<text x="68.0" y="666.8" font-size="8.8" fill="#3a3a3a" stroke="#3a3a3a" text-anchor="middle" >0</text>
<path d="M103.3,655.4V658.0" stroke="#333333" stroke-width="1.05"/>
<text x="103.3" y="666.8" font-size="8.8" fill="#3a3a3a" stroke="#3a3a3a" text-anchor="middle" >20</text>
<path d="M138.6,655.4V658.0" stroke="#333333" stroke-width="1.05"/>
<text x="138.6" y="666.8" font-size="8.8" fill="#3a3a3a" stroke="#3a3a3a" text-anchor="middle" >40</text>
<path d="M173.89999999999998,655.4V658.0" stroke="#333333" stroke-width="1.05"/>
<text x="173.89999999999998" y="666.8" font-size="8.8" fill="#3a3a3a" stroke="#3a3a3a" text-anchor="middle" >60</text>
<path d="M209.2,655.4V658.0" stroke="#333333" stroke-width="1.05"/>
<text x="209.2" y="666.8" font-size="8.8" fill="#3a3a3a" stroke="#3a3a3a" text-anchor="middle" >80</text>
<path d="M244.5,655.4V658.0" stroke="#333333" stroke-width="1.05"/>
<text x="244.5" y="666.8" font-size="8.8" fill="#3a3a3a" stroke="#3a3a3a" text-anchor="middle" >100</text>
<path d="M279.79999999999995,655.4V658.0" stroke="#333333" stroke-width="1.05"/>
<text x="279.79999999999995" y="666.8" font-size="8.8" fill="#3a3a3a" stroke="#3a3a3a" text-anchor="middle" >120</text>
<text x="0" y="0" font-size="10.85" fill="#1a1a1a" stroke="#1a1a1a" text-anchor="middle" transform="translate(32.6,542.4) rotate(-90)">Survival Probability</text>
<text x="174.3" y="678.6" font-size="10.3" fill="#1a1a1a" stroke="#1a1a1a" text-anchor="middle" >Overall Survival (months)</text>
<path d="M68.20,439.40 L68.93,439.40 L68.93,443.60 L69.67,443.60 L69.67,447.80 L70.40,447.80 L70.40,452.00 L71.23,452.00 L71.23,453.67 L72.07,453.67 L72.07,455.33 L72.90,455.33 L72.90,457.00 L73.74,457.00 L73.74,458.68 L74.58,458.68 L74.58,460.36 L75.42,460.36 L75.42,462.04 L76.26,462.04 L76.26,463.72 L77.10,463.72 L77.10,465.40 L77.95,465.40 L77.95,467.05 L78.80,467.05 L78.80,468.70 L79.65,468.70 L79.65,470.35 L80.50,470.35 L80.50,472.00 L81.27,472.00 L81.27,474.67 L82.03,474.67 L82.03,477.33 L82.80,477.33 L82.80,480.00 L83.64,480.00 L83.64,482.34 L84.48,482.34 L84.48,484.68 L85.32,484.68 L85.32,487.02 L86.16,487.02 L86.16,489.36 L87.00,489.36 L87.00,491.70 L87.85,491.70 L87.85,493.80 L88.70,493.80 L88.70,495.90 L89.55,495.90 L89.55,498.00 L90.40,498.00 L90.40,500.10 L91.23,500.10 L91.23,502.20 L92.05,502.20 L92.05,504.30 L92.88,504.30 L92.88,506.40 L93.70,506.40 L93.70,508.50 L94.55,508.50 L94.55,511.00 L95.40,511.00 L95.40,513.50 L96.25,513.50 L96.25,516.00 L97.10,516.00 L97.10,518.50 L97.82,518.50 L97.82,519.10 L98.55,519.10 L98.55,519.70 L99.28,519.70 L99.28,520.30 L100.00,520.30 L100.00,520.90 L100.83,520.90 L100.83,521.88 L101.67,521.88 L101.67,522.87 L102.50,522.87 L102.50,523.85 L103.33,523.85 L103.33,524.83 L104.17,524.83 L104.17,525.82 L105.00,525.82 L105.00,526.80 L105.83,526.80 L105.83,527.92 L106.67,527.92 L106.67,529.03 L107.50,529.03 L107.50,530.15 L108.33,530.15 L108.33,531.27 L109.17,531.27 L109.17,532.38 L110.00,532.38 L110.00,533.50 L110.85,533.50 L110.85,534.34 L111.70,534.34 L111.70,535.17 L112.55,535.17 L112.55,536.01 L113.40,536.01 L113.40,536.85 L114.25,536.85 L114.25,537.69 L115.10,537.69 L115.10,538.53 L115.95,538.53 L115.95,539.36 L116.80,539.36 L116.80,540.20 L117.63,540.20 L117.63,540.70 L118.46,540.70 L118.46,541.20 L119.29,541.20 L119.29,541.70 L120.12,541.70 L120.12,542.20 L120.95,542.20 L120.95,542.70 L121.78,542.70 L121.78,543.20 L122.61,543.20 L122.61,543.70 L123.44,543.70 L123.44,544.20 L124.27,544.20 L124.27,544.70 L125.10,544.70 L125.10,545.20 L125.86,545.20 L125.86,545.51 L126.63,545.51 L126.63,545.82 L127.39,545.82 L127.39,546.13 L128.15,546.13 L128.15,546.44 L128.92,546.44 L128.92,546.75 L129.68,546.75 L129.68,547.05 L130.45,547.05 L130.45,547.36 L131.21,547.36 L131.21,547.67 L131.97,547.67 L131.97,547.98 L132.74,547.98 L132.74,548.29 L133.50,548.29 L133.50,548.60 L134.26,548.60 L134.26,548.83 L135.03,548.83 L135.03,549.05 L135.79,549.05 L135.79,549.28 L136.55,549.28 L136.55,549.51 L137.32,549.51 L137.32,549.74 L138.08,549.74 L138.08,549.96 L138.85,549.96 L138.85,550.19 L139.61,550.19 L139.61,550.42 L140.37,550.42 L140.37,550.65 L141.14,550.65 L141.14,550.87 L141.90,550.87 L141.90,551.10 L142.66,551.10 L142.66,551.33 L143.43,551.33 L143.43,551.55 L144.19,551.55 L144.19,551.78 L144.95,551.78 L144.95,552.01 L145.72,552.01 L145.72,552.24 L146.48,552.24 L146.48,552.46 L147.25,552.46 L147.25,552.69 L148.01,552.69 L148.01,552.92 L148.77,552.92 L148.77,553.15 L149.54,553.15 L149.54,553.37 L150.30,553.37 L150.30,553.60 L151.13,553.60 L151.13,553.85 L151.96,553.85 L151.96,554.10 L152.79,554.10 L152.79,554.35 L153.62,554.35 L153.62,554.60 L154.45,554.60 L154.45,554.85 L155.28,554.85 L155.28,555.10 L156.11,555.10 L156.11,555.35 L156.94,555.35 L156.94,555.60 L157.77,555.60 L157.77,555.85 L158.60,555.85 L158.60,556.10 L159.36,556.10 L159.36,556.33 L160.13,556.33 L160.13,556.55 L160.89,556.55 L160.89,556.78 L161.65,556.78 L161.65,557.01 L162.42,557.01 L162.42,557.24 L163.18,557.24 L163.18,557.46 L163.95,557.46 L163.95,557.69 L164.71,557.69 L164.71,557.92 L165.47,557.92 L165.47,558.15 L166.24,558.15 L166.24,558.37 L167.00,558.37 L167.00,558.60 L167.76,558.60 L167.76,558.68 L168.53,558.68 L168.53,558.76 L169.29,558.76 L169.29,558.85 L170.05,558.85 L170.05,558.93 L170.82,558.93 L170.82,559.01 L171.58,559.01 L171.58,559.09 L172.35,559.09 L172.35,559.17 L173.11,559.17 L173.11,559.25 L173.87,559.25 L173.87,559.34 L174.64,559.34 L174.64,559.42 L175.40,559.42 L175.40,559.50 L176.16,559.50 L176.16,559.65 L176.93,559.65 L176.93,559.79 L177.69,559.79 L177.69,559.94 L178.45,559.94 L178.45,560.08 L179.22,560.08 L179.22,560.23 L179.98,560.23 L179.98,560.37 L180.75,560.37 L180.75,560.52 L181.51,560.52 L181.51,560.66 L182.27,560.66 L182.27,560.81 L183.04,560.81 L183.04,560.95 L183.80,560.95 L183.80,561.10 L184.58,561.10 L184.58,561.36 L185.35,561.36 L185.35,561.62 L186.12,561.62 L186.12,561.89 L186.90,561.89 L186.90,562.15 L187.68,562.15 L187.68,562.41 L188.45,562.41 L188.45,562.68 L189.22,562.68 L189.22,562.94 L190.00,562.94 L190.00,563.20 L190.78,563.20 L190.78,563.35 L191.55,563.35 L191.55,563.51 L192.33,563.51 L192.33,563.66 L193.11,563.66 L193.11,563.82 L193.88,563.82 L193.88,563.97 L194.66,563.97 L194.66,564.12 L195.44,564.12 L195.44,564.28 L196.22,564.28 L196.22,564.43 L196.99,564.43 L196.99,564.58 L197.77,564.58 L197.77,564.74 L198.55,564.74 L198.55,564.89 L199.32,564.89 L199.32,565.05 L200.10,565.05 L200.10,565.20 L200.88,565.20 L200.88,565.35 L201.65,565.35 L201.65,565.51 L202.43,565.51 L202.43,565.66 L203.21,565.66 L203.21,565.82 L203.98,565.82 L203.98,565.97 L204.76,565.97 L204.76,566.12 L205.54,566.12 L205.54,566.28 L206.32,566.28 L206.32,566.43 L207.09,566.43 L207.09,566.58 L207.87,566.58 L207.87,566.74 L208.65,566.74 L208.65,566.89 L209.42,566.89 L209.42,567.05 L210.20,567.05 L210.20,567.20 L211.03,567.20 L211.03,567.28 L211.87,567.28 L211.87,567.37 L212.70,567.37 L212.70,567.45 L213.53,567.45 L213.53,567.53 L214.37,567.53 L214.37,567.62 L215.20,567.62 L215.20,567.70 L216.03,567.70 L216.03,567.78 L216.87,567.78 L216.87,567.87 L217.70,567.87 L217.70,567.95 L218.53,567.95 L218.53,568.03 L219.37,568.03 L219.37,568.12 L220.20,568.12 L220.20,568.20 L220.98,568.20 L220.98,568.28 L221.75,568.28 L221.75,568.35 L222.53,568.35 L222.53,568.43 L223.31,568.43 L223.31,568.51 L224.08,568.51 L224.08,568.58 L224.86,568.58 L224.86,568.66 L225.64,568.66 L225.64,568.74 L226.42,568.74 L226.42,568.82 L227.19,568.82 L227.19,568.89 L227.97,568.89 L227.97,568.97 L228.75,568.97 L228.75,569.05 L229.52,569.05 L229.52,569.12 L230.30,569.12 L230.30,569.20 L231.13,569.20 L231.13,569.29 L231.97,569.29 L231.97,569.38 L232.80,569.38 L232.80,569.48 L233.63,569.48 L233.63,569.57 L234.47,569.57 L234.47,569.66 L235.30,569.66 L235.30,569.75 L236.13,569.75 L236.13,569.84 L236.97,569.84 L236.97,569.93 L237.80,569.93 L237.80,570.02 L238.63,570.02 L238.63,570.12 L239.47,570.12 L239.47,570.21 L240.30,570.21 L240.30,570.30 L241.08,570.30 L241.08,570.38 L241.85,570.38 L241.85,570.45 L242.63,570.45 L242.63,570.53 L243.41,570.53 L243.41,570.61 L244.18,570.61 L244.18,570.68 L244.96,570.68 L244.96,570.76 L245.74,570.76 L245.74,570.84 L246.52,570.84 L246.52,570.92 L247.29,570.92 L247.29,570.99 L248.07,570.99 L248.07,571.07 L248.85,571.07 L248.85,571.15 L249.62,571.15 L249.62,571.22 L250.40,571.22 L250.40,571.30 L251.23,571.30 L251.23,571.38 L252.07,571.38 L252.07,571.47 L252.90,571.47 L252.90,571.55 L253.73,571.55 L253.73,571.63 L254.57,571.63 L254.57,571.72 L255.40,571.72 L255.40,571.80 L256.23,571.80 L256.23,571.88 L257.07,571.88 L257.07,571.97 L257.90,571.97 L257.90,572.05 L258.73,572.05 L258.73,572.13 L259.57,572.13 L259.57,572.22 L260.40,572.22 L260.40,572.30 L270.50,572.70 L290.60,572.70" fill="none" stroke="#3d80bf" stroke-width="1.4" stroke-linejoin="miter"/>
<path d="M68.20,439.40 L68.85,439.40 L68.85,448.20 L69.50,448.20 L69.50,457.00 L70.40,457.00 L70.40,468.70 L71.23,468.70 L71.23,470.60 L72.05,470.60 L72.05,472.50 L72.88,472.50 L72.88,474.40 L73.70,474.40 L73.70,476.30 L74.50,476.30 L74.50,477.87 L75.30,477.87 L75.30,479.43 L76.10,479.43 L76.10,481.00 L76.97,481.00 L76.97,483.67 L77.83,483.67 L77.83,486.33 L78.70,486.33 L78.70,489.00 L79.53,489.00 L79.53,490.57 L80.37,490.57 L80.37,492.13 L81.20,492.13 L81.20,493.70 L82.03,493.70 L82.03,495.27 L82.87,495.27 L82.87,496.83 L83.70,496.83 L83.70,498.40 L84.50,498.40 L84.50,504.30 L85.30,504.30 L85.30,510.20 L86.15,510.20 L86.15,512.27 L87.00,512.27 L87.00,514.35 L87.85,514.35 L87.85,516.42 L88.70,516.42 L88.70,518.50 L89.54,518.50 L89.54,518.84 L90.38,518.84 L90.38,519.18 L91.22,519.18 L91.22,519.52 L92.06,519.52 L92.06,519.86 L92.90,519.86 L92.90,520.20 L93.74,520.20 L93.74,520.54 L94.58,520.54 L94.58,520.88 L95.42,520.88 L95.42,521.22 L96.26,521.22 L96.26,521.56 L97.10,521.56 L97.10,521.90 L97.90,521.90 L97.90,525.95 L98.70,525.95 L98.70,530.00 L99.35,530.00 L99.35,531.75 L100.00,531.75 L100.00,533.50 L100.85,533.50 L100.85,536.42 L101.70,536.42 L101.70,539.35 L102.55,539.35 L102.55,542.28 L103.40,542.28 L103.40,545.20 L104.22,545.20 L104.22,547.22 L105.04,547.22 L105.04,549.24 L105.86,549.24 L105.86,551.26 L106.68,551.26 L106.68,553.28 L107.50,553.28 L107.50,555.30 L108.34,555.30 L108.34,556.64 L109.18,556.64 L109.18,557.98 L110.02,557.98 L110.02,559.32 L110.86,559.32 L110.86,560.66 L111.70,560.66 L111.70,562.00 L112.55,562.00 L112.55,562.83 L113.40,562.83 L113.40,563.67 L114.25,563.67 L114.25,564.50 L115.10,564.50 L115.10,565.33 L115.95,565.33 L115.95,566.17 L116.80,566.17 L116.80,567.00 L117.62,567.00 L117.62,567.85 L118.45,567.85 L118.45,568.70 L119.27,568.70 L119.27,569.55 L120.10,569.55 L120.10,570.40 L120.89,570.40 L120.89,570.45 L121.68,570.45 L121.68,570.49 L122.46,570.49 L122.46,570.54 L123.25,570.54 L123.25,570.59 L124.04,570.59 L124.04,570.64 L124.83,570.64 L124.83,570.68 L125.62,570.68 L125.62,570.73 L126.41,570.73 L126.41,570.78 L127.19,570.78 L127.19,570.82 L127.98,570.82 L127.98,570.87 L128.77,570.87 L128.77,570.92 L129.56,570.92 L129.56,570.96 L130.35,570.96 L130.35,571.01 L131.14,571.01 L131.14,571.06 L131.92,571.06 L131.92,571.11 L132.71,571.11 L132.71,571.15 L133.50,571.15 L133.50,571.20 L134.28,571.20 L134.28,571.39 L135.05,571.39 L135.05,571.58 L135.83,571.58 L135.83,571.78 L136.61,571.78 L136.61,571.97 L137.38,571.97 L137.38,572.16 L138.16,572.16 L138.16,572.35 L138.94,572.35 L138.94,572.55 L139.72,572.55 L139.72,572.74 L140.49,572.74 L140.49,572.93 L141.27,572.93 L141.27,573.12 L142.05,573.12 L142.05,573.32 L142.82,573.32 L142.82,573.51 L143.60,573.51 L143.60,573.70 L144.38,573.70 L144.38,573.81 L145.16,573.81 L145.16,573.93 L145.94,573.93 L145.94,574.04 L146.72,574.04 L146.72,574.15 L147.50,574.15 L147.50,574.27 L148.28,574.27 L148.28,574.38 L149.06,574.38 L149.06,574.49 L149.84,574.49 L149.84,574.61 L150.62,574.61 L150.62,574.72 L151.40,574.72 L151.40,574.83 L152.18,574.83 L152.18,574.95 L152.96,574.95 L152.96,575.06 L153.74,575.06 L153.74,575.17 L154.52,575.17 L154.52,575.29 L155.30,575.29 L155.30,575.40 L156.09,575.40 L156.09,575.44 L156.89,575.44 L156.89,575.48 L157.68,575.48 L157.68,575.53 L158.48,575.53 L158.48,575.57 L159.27,575.57 L159.27,575.61 L160.07,575.61 L160.07,575.65 L160.86,575.65 L160.86,575.69 L161.66,575.69 L161.66,575.74 L162.45,575.74 L162.45,575.78 L163.25,575.78 L163.25,575.82 L164.04,575.82 L164.04,575.86 L164.84,575.86 L164.84,575.91 L165.63,575.91 L165.63,575.95 L166.43,575.95 L166.43,575.99 L167.22,575.99 L167.22,576.03 L168.02,576.03 L168.02,576.07 L168.81,576.07 L168.81,576.12 L169.61,576.12 L169.61,576.16 L170.40,576.16 L170.40,576.20 L171.24,576.20 L171.24,576.60 L172.07,576.60 L172.07,577.00 L172.91,577.00 L172.91,577.40 L173.75,577.40 L173.75,577.80 L174.59,577.80 L174.59,578.20 L175.43,578.20 L175.43,578.60 L176.26,578.60 L176.26,579.00 L177.10,579.00 L177.10,579.40 L200.10,579.90 L201.10,579.90 L201.10,582.30 L202.10,582.30 L202.10,584.70 L234.30,584.70 L235.30,584.70 L235.30,586.50 L236.30,586.50 L236.30,588.30 L240.30,588.30 L241.30,588.30 L241.30,591.05 L242.30,591.05 L242.30,593.80 L290.60,593.80" fill="none" stroke="#d0242a" stroke-width="1.4" stroke-linejoin="miter"/>
<path d="M69.0,453.2h4.0M71.0,450.2v6.0M70.0,455.2h4.0M72.0,452.2v6.0M71.0,457.2h4.0M73.0,454.2v6.0M72.0,459.2h4.0M74.0,456.2v6.0M74.0,463.2h4.0M76.0,460.2v6.0M75.0,465.2h4.0M77.0,462.2v6.0M76.0,467.1h4.0M78.0,464.1v6.0M78.0,471.0h4.0M80.0,468.0v6.0M85.0,491.7h4.0M87.0,488.7v6.0M87.0,496.6h4.0M89.0,493.6v6.0M89.0,501.6h4.0M91.0,498.6v6.0M90.0,504.2h4.0M92.0,501.2v6.0M92.0,509.4h4.0M94.0,506.4v6.0M94.0,515.3h4.0M96.0,512.3v6.0M96.3,519.5h4.0M98.3,516.5v6.0M99.1,522.2h4.0M101.1,519.2v6.0M100.5,523.8h4.0M102.5,520.8v6.0M103.6,527.6h4.0M105.6,524.6v6.0M105.7,530.4h4.0M107.7,527.4v6.0M106.5,531.5h4.0M108.5,528.5v6.0M108.7,534.2h4.0M110.7,531.2v6.0M111.7,537.1h4.0M113.7,534.1v6.0M113.4,538.8h4.0M115.4,535.8v6.0M115.7,540.8h4.0M117.7,537.8v6.0M116.9,541.5h4.0M118.9,538.5v6.0M118.6,542.5h4.0M120.6,539.5v6.0M120.9,543.9h4.0M122.9,540.9v6.0M123.8,545.5h4.0M125.8,542.5v6.0M124.9,545.9h4.0M126.9,542.9v6.0M127.0,546.8h4.0M129.0,543.8v6.0M129.2,547.7h4.0M131.2,544.7v6.0M131.2,548.5h4.0M133.2,545.5v6.0M133.2,549.1h4.0M135.2,546.1v6.0M136.2,550.0h4.0M138.2,547.0v6.0M136.8,550.2h4.0M138.8,547.2v6.0M138.6,550.7h4.0M140.6,547.7v6.0M142.3,551.8h4.0M144.3,548.8v6.0M144.2,552.4h4.0M146.2,549.4v6.0M146.4,553.0h4.0M148.4,550.0v6.0M147.4,553.3h4.0M149.4,550.3v6.0M150.4,554.2h4.0M152.4,551.2v6.0M152.3,554.8h4.0M154.3,551.8v6.0M153.1,555.0h4.0M155.1,552.0v6.0M156.1,555.9h4.0M158.1,552.9v6.0M158.2,556.6h4.0M160.2,553.6v6.0M160.0,557.1h4.0M162.0,554.1v6.0M161.7,557.6h4.0M163.7,554.6v6.0M163.3,558.1h4.0M165.3,555.1v6.0M165.4,558.6h4.0M167.4,555.6v6.0M167.3,558.8h4.0M169.3,555.8v6.0M169.0,559.0h4.0M171.0,556.0v6.0M171.9,559.3h4.0M173.9,556.3v6.0M173.4,559.5h4.0M175.4,556.5v6.0M176.4,560.1h4.0M178.4,557.1v6.0M177.0,560.2h4.0M179.0,557.2v6.0M180.6,560.9h4.0M182.6,557.9v6.0M182.2,561.2h4.0M184.2,558.2v6.0M184.7,562.1h4.0M186.7,559.1v6.0M186.6,562.7h4.0M188.6,559.7v6.0M188.7,563.3h4.0M190.7,560.3v6.0M190.1,563.6h4.0M192.1,560.6v6.0M191.1,563.8h4.0M193.1,560.8v6.0M194.5,564.5h4.0M196.5,561.5v6.0M195.5,564.7h4.0M197.5,561.7v6.0M197.7,565.1h4.0M199.7,562.1v6.0M200.4,565.7h4.0M202.4,562.7v6.0M202.2,566.0h4.0M204.2,563.0v6.0M204.0,566.4h4.0M206.0,563.4v6.0M206.9,567.0h4.0M208.9,564.0v6.0M208.4,567.2h4.0M210.4,564.2v6.0M209.9,567.4h4.0M211.9,564.4v6.0M211.8,567.6h4.0M213.8,564.6v6.0M214.9,567.9h4.0M216.9,564.9v6.0M216.2,568.0h4.0M218.2,565.0v6.0M218.8,568.3h4.0M220.8,565.3v6.0M220.0,568.4h4.0M222.0,565.4v6.0M221.8,568.6h4.0M223.8,565.6v6.0M224.4,568.8h4.0M226.4,565.8v6.0M226.9,569.1h4.0M228.9,566.1v6.0M227.8,569.1h4.0M229.8,566.1v6.0M230.9,569.5h4.0M232.9,566.5v6.0M233.2,569.7h4.0M235.2,566.7v6.0M235.0,569.9h4.0M237.0,566.9v6.0M237.1,570.2h4.0M239.1,567.2v6.0M237.6,570.2h4.0M239.6,567.2v6.0M240.7,570.5h4.0M242.7,567.5v6.0M243.2,570.8h4.0M245.2,567.8v6.0M243.7,570.8h4.0M245.7,567.8v6.0M246.2,571.1h4.0M248.2,568.1v6.0M248.2,571.3h4.0M250.2,568.3v6.0M250.7,571.5h4.0M252.7,568.5v6.0M252.5,571.7h4.0M254.5,568.7v6.0M254.6,571.9h4.0M256.6,568.9v6.0M257.2,572.2h4.0M259.2,569.2v6.0M257.8,572.2h4.0M259.8,569.2v6.0M259.9,572.4h4.0M261.9,569.4v6.0M262.1,572.4h4.0M264.1,569.4v6.0M264.1,572.5h4.0M266.1,569.5v6.0M266.0,572.6h4.0M268.0,569.6v6.0M269.7,572.7h4.0M271.7,569.7v6.0M271.5,572.7h4.0M273.5,569.7v6.0M272.1,572.7h4.0M274.1,569.7v6.0M274.9,572.7h4.0M276.9,569.7v6.0M276.6,572.7h4.0M278.6,569.7v6.0M278.6,572.7h4.0M280.6,569.7v6.0M280.7,572.7h4.0M282.7,569.7v6.0M283.2,572.7h4.0M285.2,569.7v6.0M285.1,572.7h4.0M287.1,569.7v6.0M286.7,572.7h4.0M288.7,569.7v6.0" fill="none" stroke="#3d80bf" stroke-width="1.1"/>
<path d="M68.5,468.9h4.0M70.5,465.9v6.0M70.0,472.4h4.0M72.0,469.4v6.0M81.0,497.1h4.0M83.0,494.1v6.0M85.0,514.4h4.0M87.0,511.4v6.0M97.0,530.8h4.0M99.0,527.8v6.0M100.0,540.4h4.0M102.0,537.4v6.0M104.0,551.6h4.0M106.0,548.6v6.0M106.0,556.1h4.0M108.0,553.1v6.0M109.0,560.9h4.0M111.0,557.9v6.0M110.0,562.3h4.0M112.0,559.3v6.0M112.0,564.3h4.0M114.0,561.3v6.0M115.0,567.2h4.0M117.0,564.2v6.0M119.0,570.5h4.0M121.0,567.5v6.0M122.0,570.6h4.0M124.0,567.6v6.0M130.0,571.1h4.0M132.0,568.1v6.0M134.0,571.8h4.0M136.0,568.8v6.0M143.0,573.9h4.0M145.0,570.9v6.0M148.0,574.6h4.0M150.0,571.6v6.0M159.0,575.7h4.0M161.0,572.7v6.0M161.0,575.8h4.0M163.0,572.8v6.0M183.0,579.6h4.0M185.0,576.6v6.0M187.0,579.7h4.0M189.0,576.7v6.0M200.0,584.5h4.0M202.0,581.5v6.0M211.0,584.7h4.0M213.0,581.7v6.0M221.0,584.7h4.0M223.0,581.7v6.0M232.0,584.7h4.0M234.0,581.7v6.0M249.0,593.8h4.0M251.0,590.8v6.0M255.0,593.8h4.0M257.0,590.8v6.0" fill="none" stroke="#d0242a" stroke-width="1.1"/>
<path d="M358.3,426.6V656.0H593.8" fill="none" stroke="#333333" stroke-width="1.05"/>
<path d="M355.7,437.6H358.3" stroke="#333333" stroke-width="1.05"/>
<text x="354.40000000000003" y="441.0" font-size="8.8" fill="#3a3a3a" stroke="#3a3a3a" text-anchor="end" >1.00</text>
<path d="M355.7,489.57500000000005H358.3" stroke="#333333" stroke-width="1.05"/>
<text x="354.40000000000003" y="492.975" font-size="8.8" fill="#3a3a3a" stroke="#3a3a3a" text-anchor="end" >0.75</text>
<path d="M355.7,541.55H358.3" stroke="#333333" stroke-width="1.05"/>
<text x="354.40000000000003" y="544.9499999999999" font-size="8.8" fill="#3a3a3a" stroke="#3a3a3a" text-anchor="end" >0.50</text>
<path d="M355.7,593.525H358.3" stroke="#333333" stroke-width="1.05"/>
<text x="354.40000000000003" y="596.925" font-size="8.8" fill="#3a3a3a" stroke="#3a3a3a" text-anchor="end" >0.25</text>
<path d="M355.7,645.5H358.3" stroke="#333333" stroke-width="1.05"/>
<text x="354.40000000000003" y="648.9" font-size="8.8" fill="#3a3a3a" stroke="#3a3a3a" text-anchor="end" >0.00</text>
<path d="M369.1,656.0V658.6" stroke="#333333" stroke-width="1.05"/>
<text x="369.1" y="667.6" font-size="8.8" fill="#3a3a3a" stroke="#3a3a3a" text-anchor="middle" >0</text>
<path d="M405.0,656.0V658.6" stroke="#333333" stroke-width="1.05"/>
<text x="405.0" y="667.6" font-size="8.8" fill="#3a3a3a" stroke="#3a3a3a" text-anchor="middle" >20</text>
<path d="M440.90000000000003,656.0V658.6" stroke="#333333" stroke-width="1.05"/>
<text x="440.90000000000003" y="667.6" font-size="8.8" fill="#3a3a3a" stroke="#3a3a3a" text-anchor="middle" >40</text>
<path d="M476.8,656.0V658.6" stroke="#333333" stroke-width="1.05"/>
<text x="476.8" y="667.6" font-size="8.8" fill="#3a3a3a" stroke="#3a3a3a" text-anchor="middle" >60</text>
<path d="M512.7,656.0V658.6" stroke="#333333" stroke-width="1.05"/>
<text x="512.7" y="667.6" font-size="8.8" fill="#3a3a3a" stroke="#3a3a3a" text-anchor="middle" >80</text>
<path d="M548.6,656.0V658.6" stroke="#333333" stroke-width="1.05"/>
<text x="548.6" y="667.6" font-size="8.8" fill="#3a3a3a" stroke="#3a3a3a" text-anchor="middle" >100</text>
<path d="M584.5,656.0V658.6" stroke="#333333" stroke-width="1.05"/>
<text x="584.5" y="667.6" font-size="8.8" fill="#3a3a3a" stroke="#3a3a3a" text-anchor="middle" >120</text>
<text x="0" y="0" font-size="10.8" fill="#1a1a1a" stroke="#1a1a1a" text-anchor="middle" transform="translate(333.4,541.5) rotate(-90)">Event Free Probability</text>
<text x="475.0" y="679.9" font-size="10.3" fill="#1a1a1a" stroke="#1a1a1a" text-anchor="middle" >Event-free Survival (months)</text>
<path d="M369.30,437.60 L369.30,487.50 L370.30,487.50 L371.05,487.50 L371.05,487.88 L371.80,487.88 L371.80,488.25 L372.55,488.25 L372.55,488.62 L373.30,488.62 L373.30,489.00 L374.05,489.00 L374.05,490.75 L374.80,490.75 L374.80,492.50 L375.55,492.50 L375.55,494.25 L376.30,494.25 L376.30,496.00 L377.10,496.00 L377.10,498.02 L377.90,498.02 L377.90,500.04 L378.70,500.04 L378.70,502.06 L379.50,502.06 L379.50,504.08 L380.30,504.08 L380.30,506.10 L381.10,506.10 L381.10,508.50 L381.90,508.50 L381.90,510.90 L382.70,510.90 L382.70,513.30 L383.50,513.30 L383.50,515.70 L384.30,515.70 L384.30,518.10 L385.10,518.10 L385.10,521.32 L385.90,521.32 L385.90,524.54 L386.70,524.54 L386.70,527.76 L387.50,527.76 L387.50,530.98 L388.30,530.98 L388.30,534.20 L389.12,534.20 L389.12,536.62 L389.94,536.62 L389.94,539.04 L390.76,539.04 L390.76,541.46 L391.58,541.46 L391.58,543.88 L392.40,543.88 L392.40,546.30 L393.20,546.30 L393.20,548.30 L394.00,548.30 L394.00,550.30 L394.80,550.30 L394.80,552.30 L395.60,552.30 L395.60,554.30 L396.40,554.30 L396.40,556.30 L397.20,556.30 L397.20,557.52 L398.00,557.52 L398.00,558.74 L398.80,558.74 L398.80,559.96 L399.60,559.96 L399.60,561.18 L400.40,561.18 L400.40,562.40 L401.20,562.40 L401.20,562.80 L402.00,562.80 L402.00,563.20 L402.80,563.20 L402.80,563.60 L403.60,563.60 L403.60,564.00 L404.40,564.00 L404.40,564.40 L405.20,564.40 L405.20,564.80 L406.00,564.80 L406.00,565.20 L406.80,565.20 L406.80,565.60 L407.60,565.60 L407.60,566.00 L408.40,566.00 L408.40,566.40 L409.21,566.40 L409.21,567.00 L410.02,567.00 L410.02,567.60 L410.83,567.60 L410.83,568.20 L411.64,568.20 L411.64,568.80 L412.45,568.80 L412.45,569.40 L413.26,569.40 L413.26,570.00 L414.07,570.00 L414.07,570.60 L414.88,570.60 L414.88,571.20 L415.69,571.20 L415.69,571.80 L416.50,571.80 L416.50,572.40 L417.33,572.40 L417.33,572.73 L418.17,572.73 L418.17,573.07 L419.00,573.07 L419.00,573.40 L419.83,573.40 L419.83,573.73 L420.67,573.73 L420.67,574.07 L421.50,574.07 L421.50,574.40 L422.33,574.40 L422.33,574.73 L423.17,574.73 L423.17,575.07 L424.00,575.07 L424.00,575.40 L424.83,575.40 L424.83,575.73 L425.67,575.73 L425.67,576.07 L426.50,576.07 L426.50,576.40 L427.29,576.40 L427.29,576.52 L428.09,576.52 L428.09,576.64 L428.88,576.64 L428.88,576.75 L429.68,576.75 L429.68,576.87 L430.47,576.87 L430.47,576.99 L431.26,576.99 L431.26,577.11 L432.06,577.11 L432.06,577.22 L432.85,577.22 L432.85,577.34 L433.65,577.34 L433.65,577.46 L434.44,577.46 L434.44,577.58 L435.24,577.58 L435.24,577.69 L436.03,577.69 L436.03,577.81 L436.82,577.81 L436.82,577.93 L437.62,577.93 L437.62,578.05 L438.41,578.05 L438.41,578.16 L439.21,578.16 L439.21,578.28 L440.00,578.28 L440.00,578.40 L440.82,578.40 L440.82,578.44 L441.64,578.44 L441.64,578.47 L442.45,578.47 L442.45,578.51 L443.27,578.51 L443.27,578.55 L444.09,578.55 L444.09,578.58 L444.91,578.58 L444.91,578.62 L445.73,578.62 L445.73,578.65 L446.55,578.65 L446.55,578.69 L447.36,578.69 L447.36,578.73 L448.18,578.73 L448.18,578.76 L449.00,578.76 L449.00,578.80 L449.82,578.80 L449.82,578.84 L450.64,578.84 L450.64,578.87 L451.45,578.87 L451.45,578.91 L452.27,578.91 L452.27,578.95 L453.09,578.95 L453.09,578.98 L453.91,578.98 L453.91,579.02 L454.73,579.02 L454.73,579.05 L455.55,579.05 L455.55,579.09 L456.36,579.09 L456.36,579.13 L457.18,579.13 L457.18,579.16 L458.00,579.16 L458.00,579.20 L458.78,579.20 L458.78,579.36 L459.56,579.36 L459.56,579.51 L460.33,579.51 L460.33,579.67 L461.11,579.67 L461.11,579.82 L461.89,579.82 L461.89,579.98 L462.67,579.98 L462.67,580.13 L463.44,580.13 L463.44,580.29 L464.22,580.29 L464.22,580.44 L465.00,580.44 L465.00,580.60 L465.78,580.60 L465.78,580.76 L466.56,580.76 L466.56,580.91 L467.33,580.91 L467.33,581.07 L468.11,581.07 L468.11,581.22 L468.89,581.22 L468.89,581.38 L469.67,581.38 L469.67,581.53 L470.44,581.53 L470.44,581.69 L471.22,581.69 L471.22,581.84 L472.00,581.84 L472.00,582.00 L472.78,582.00 L472.78,582.08 L473.56,582.08 L473.56,582.16 L474.33,582.16 L474.33,582.23 L475.11,582.23 L475.11,582.31 L475.89,582.31 L475.89,582.39 L476.67,582.39 L476.67,582.47 L477.44,582.47 L477.44,582.54 L478.22,582.54 L478.22,582.62 L479.00,582.62 L479.00,582.70 L479.78,582.70 L479.78,582.78 L480.56,582.78 L480.56,582.86 L481.33,582.86 L481.33,582.93 L482.11,582.93 L482.11,583.01 L482.89,583.01 L482.89,583.09 L483.67,583.09 L483.67,583.17 L484.44,583.17 L484.44,583.24 L485.22,583.24 L485.22,583.32 L486.00,583.32 L486.00,583.40 L513.90,583.40 L514.70,583.40 L514.70,583.42 L515.50,583.42 L515.50,583.45 L516.30,583.45 L516.30,583.47 L517.10,583.47 L517.10,583.49 L517.90,583.49 L517.90,583.51 L518.70,583.51 L518.70,583.54 L519.50,583.54 L519.50,583.56 L520.30,583.56 L520.30,583.58 L521.10,583.58 L521.10,583.61 L521.90,583.61 L521.90,583.63 L522.70,583.63 L522.70,583.65 L523.50,583.65 L523.50,583.67 L524.30,583.67 L524.30,583.70 L525.10,583.70 L525.10,583.72 L525.90,583.72 L525.90,583.74 L526.70,583.74 L526.70,583.77 L527.50,583.77 L527.50,583.79 L528.30,583.79 L528.30,583.81 L529.10,583.81 L529.10,583.83 L529.90,583.83 L529.90,583.86 L530.70,583.86 L530.70,583.88 L531.50,583.88 L531.50,583.90 L532.30,583.90 L532.30,583.93 L533.10,583.93 L533.10,583.95 L533.90,583.95 L533.90,583.97 L534.70,583.97 L534.70,583.99 L535.50,583.99 L535.50,584.02 L536.30,584.02 L536.30,584.04 L537.10,584.04 L537.10,584.06 L537.90,584.06 L537.90,584.09 L538.70,584.09 L538.70,584.11 L539.50,584.11 L539.50,584.13 L540.30,584.13 L540.30,584.15 L541.10,584.15 L541.10,584.18 L541.90,584.18 L541.90,584.20 L592.00,584.80" fill="none" stroke="#3d80bf" stroke-width="1.4" stroke-linejoin="miter"/>
<path d="M369.30,437.60 L369.30,491.50 L370.05,491.50 L370.05,492.00 L370.80,492.00 L370.80,492.50 L371.55,492.50 L371.55,493.00 L372.30,493.00 L372.30,493.50 L373.30,493.50 L373.30,498.30 L374.30,498.30 L374.30,503.10 L375.10,503.10 L375.10,505.70 L375.90,505.70 L375.90,508.30 L376.70,508.30 L376.70,510.90 L377.50,510.90 L377.50,513.50 L378.30,513.50 L378.30,516.10 L379.30,516.10 L379.30,523.15 L380.30,523.15 L380.30,530.20 L381.10,530.20 L381.10,534.62 L381.90,534.62 L381.90,539.04 L382.70,539.04 L382.70,543.46 L383.50,543.46 L383.50,547.88 L384.30,547.88 L384.30,552.30 L385.13,552.30 L385.13,554.32 L385.97,554.32 L385.97,556.33 L386.80,556.33 L386.80,558.35 L387.63,558.35 L387.63,560.37 L388.47,560.37 L388.47,562.38 L389.30,562.38 L389.30,564.40 L390.15,564.40 L390.15,565.40 L391.00,565.40 L391.00,566.40 L391.85,566.40 L391.85,567.40 L392.70,567.40 L392.70,568.40 L393.55,568.40 L393.55,569.40 L394.40,569.40 L394.40,570.40 L395.15,570.40 L395.15,571.15 L395.90,571.15 L395.90,571.90 L396.65,571.90 L396.65,572.65 L397.40,572.65 L397.40,573.40 L398.15,573.40 L398.15,574.15 L398.90,574.15 L398.90,574.90 L399.65,574.90 L399.65,575.65 L400.40,575.65 L400.40,576.40 L401.15,576.40 L401.15,577.41 L401.90,577.41 L401.90,578.42 L402.65,578.42 L402.65,579.44 L403.40,579.44 L403.40,580.45 L404.15,580.45 L404.15,581.46 L404.90,581.46 L404.90,582.48 L405.65,582.48 L405.65,583.49 L406.40,583.49 L406.40,584.50 L407.21,584.50 L407.21,585.00 L408.02,585.00 L408.02,585.50 L408.83,585.50 L408.83,586.00 L409.64,586.00 L409.64,586.50 L410.45,586.50 L410.45,587.00 L411.26,587.00 L411.26,587.50 L412.07,587.50 L412.07,588.00 L412.88,588.00 L412.88,588.50 L413.69,588.50 L413.69,589.00 L414.50,589.00 L414.50,589.50 L415.25,589.50 L415.25,589.75 L416.00,589.75 L416.00,590.00 L416.75,590.00 L416.75,590.25 L417.50,590.25 L417.50,590.50 L418.25,590.50 L418.25,590.75 L419.00,590.75 L419.00,591.00 L419.75,591.00 L419.75,591.25 L420.50,591.25 L420.50,591.50 L421.31,591.50 L421.31,591.54 L422.12,591.54 L422.12,591.58 L422.94,591.58 L422.94,591.61 L423.75,591.61 L423.75,591.65 L424.56,591.65 L424.56,591.69 L425.38,591.69 L425.38,591.73 L426.19,591.73 L426.19,591.76 L427.00,591.76 L427.00,591.80 L427.81,591.80 L427.81,591.84 L428.62,591.84 L428.62,591.88 L429.44,591.88 L429.44,591.91 L430.25,591.91 L430.25,591.95 L431.06,591.95 L431.06,591.99 L431.88,591.99 L431.88,592.02 L432.69,592.02 L432.69,592.06 L433.50,592.06 L433.50,592.10 L434.31,592.10 L434.31,592.14 L435.12,592.14 L435.12,592.17 L435.94,592.17 L435.94,592.21 L436.75,592.21 L436.75,592.25 L437.56,592.25 L437.56,592.29 L438.38,592.29 L438.38,592.32 L439.19,592.32 L439.19,592.36 L440.00,592.36 L440.00,592.40 L502.70,592.40 L503.40,592.40 L503.40,595.15 L504.10,595.15 L504.10,597.90 L513.90,597.90 L514.60,597.90 L514.60,599.00 L515.30,599.00 L515.30,600.10 L536.30,600.10 L537.00,600.10 L537.00,602.90 L537.70,602.90 L537.70,605.70 L538.50,605.70 L538.50,605.71 L539.29,605.71 L539.29,605.72 L540.09,605.72 L540.09,605.74 L540.88,605.74 L540.88,605.75 L541.68,605.75 L541.68,605.76 L542.47,605.76 L542.47,605.77 L543.27,605.77 L543.27,605.79 L544.06,605.79 L544.06,605.80 L544.86,605.80 L544.86,605.81 L545.65,605.81 L545.65,605.82 L546.45,605.82 L546.45,605.84 L547.24,605.84 L547.24,605.85 L548.04,605.85 L548.04,605.86 L548.84,605.86 L548.84,605.87 L549.63,605.87 L549.63,605.88 L550.43,605.88 L550.43,605.90 L551.22,605.90 L551.22,605.91 L552.02,605.91 L552.02,605.92 L552.81,605.92 L552.81,605.93 L553.61,605.93 L553.61,605.95 L554.40,605.95 L554.40,605.96 L555.20,605.96 L555.20,605.97 L555.99,605.97 L555.99,605.98 L556.79,605.98 L556.79,606.00 L557.58,606.00 L557.58,606.01 L558.38,606.01 L558.38,606.02 L559.18,606.02 L559.18,606.03 L559.97,606.03 L559.97,606.04 L560.77,606.04 L560.77,606.06 L561.56,606.06 L561.56,606.07 L562.36,606.07 L562.36,606.08 L563.15,606.08 L563.15,606.09 L563.95,606.09 L563.95,606.11 L564.74,606.11 L564.74,606.12 L565.54,606.12 L565.54,606.13 L566.33,606.13 L566.33,606.14 L567.13,606.14 L567.13,606.16 L567.92,606.16 L567.92,606.17 L568.72,606.17 L568.72,606.18 L569.52,606.18 L569.52,606.19 L570.31,606.19 L570.31,606.20 L571.11,606.20 L571.11,606.22 L571.90,606.22 L571.90,606.23 L572.70,606.23 L572.70,606.24 L573.49,606.24 L573.49,606.25 L574.29,606.25 L574.29,606.27 L575.08,606.27 L575.08,606.28 L575.88,606.28 L575.88,606.29 L576.67,606.29 L576.67,606.30 L577.47,606.30 L577.47,606.32 L578.26,606.32 L578.26,606.33 L579.06,606.33 L579.06,606.34 L579.86,606.34 L579.86,606.35 L580.65,606.35 L580.65,606.36 L581.45,606.36 L581.45,606.38 L582.24,606.38 L582.24,606.39 L583.04,606.39 L583.04,606.40 L583.83,606.40 L583.83,606.41 L584.63,606.41 L584.63,606.43 L585.42,606.43 L585.42,606.44 L586.22,606.44 L586.22,606.45 L587.01,606.45 L587.01,606.46 L587.81,606.46 L587.81,606.48 L588.60,606.48 L588.60,606.49 L589.40,606.49 L589.40,606.50 L590.10,606.50 L590.10,608.90 L590.80,608.90 L590.80,611.30 L593.00,611.30" fill="none" stroke="#d0242a" stroke-width="1.4" stroke-linejoin="miter"/>
<path d="M368.0,487.5h4.0M370.0,484.5v6.0M369.0,487.9h4.0M371.0,484.9v6.0M370.0,488.4h4.0M372.0,485.4v6.0M372.0,490.6h4.0M374.0,487.6v6.0M373.0,493.0h4.0M375.0,490.0v6.0M377.0,502.8h4.0M379.0,499.8v6.0M379.0,508.2h4.0M381.0,505.2v6.0M380.0,511.2h4.0M382.0,508.2v6.0M386.0,533.0h4.0M388.0,530.0v6.0M387.0,536.3h4.0M389.0,533.3v6.0M389.0,542.2h4.0M391.0,539.2v6.0M390.0,545.1h4.0M392.0,542.1v6.0M392.0,550.3h4.0M394.0,547.3v6.0M394.0,555.3h4.0M396.0,552.3v6.0M395.4,557.9h4.0M397.4,554.9v6.0M397.8,561.4h4.0M399.8,558.4v6.0M399.5,562.9h4.0M401.5,559.9v6.0M402.3,564.3h4.0M404.3,561.3v6.0M404.6,565.5h4.0M406.6,562.5v6.0M406.1,566.3h4.0M408.1,563.3v6.0M407.6,567.3h4.0M409.6,564.3v6.0M409.9,569.0h4.0M411.9,566.0v6.0M412.3,570.8h4.0M414.3,567.8v6.0M414.8,572.5h4.0M416.8,569.5v6.0M417.1,573.5h4.0M419.1,570.5v6.0M418.5,574.0h4.0M420.5,571.0v6.0M421.3,575.1h4.0M423.3,572.1v6.0M423.1,575.8h4.0M425.1,572.8v6.0M424.8,576.4h4.0M426.8,573.4v6.0M426.7,576.7h4.0M428.7,573.7v6.0M429.0,577.1h4.0M431.0,574.1v6.0M431.5,577.4h4.0M433.5,574.4v6.0M433.0,577.7h4.0M435.0,574.7v6.0M435.6,578.0h4.0M437.6,575.0v6.0M437.2,578.3h4.0M439.2,575.3v6.0M438.9,578.4h4.0M440.9,575.4v6.0M441.5,578.6h4.0M443.5,575.6v6.0M443.8,578.7h4.0M445.8,575.7v6.0M444.8,578.7h4.0M446.8,575.7v6.0M447.5,578.8h4.0M449.5,575.8v6.0M449.5,578.9h4.0M451.5,575.9v6.0M452.4,579.0h4.0M454.4,576.0v6.0M454.6,579.1h4.0M456.6,576.1v6.0M455.6,579.2h4.0M457.6,576.2v6.0M458.6,579.7h4.0M460.6,576.7v6.0M460.5,580.1h4.0M462.5,577.1v6.0M461.6,580.3h4.0M463.6,577.3v6.0M464.0,580.8h4.0M466.0,577.8v6.0M465.5,581.1h4.0M467.5,578.1v6.0M468.8,581.8h4.0M470.8,578.8v6.0M470.6,582.1h4.0M472.6,579.1v6.0M473.1,582.3h4.0M475.1,579.3v6.0M475.0,582.5h4.0M477.0,579.5v6.0M476.8,582.7h4.0M478.8,579.7v6.0M479.0,582.9h4.0M481.0,579.9v6.0M480.7,583.1h4.0M482.7,580.1v6.0M482.0,583.2h4.0M484.0,580.2v6.0M484.9,583.4h4.0M486.9,580.4v6.0M485.9,583.4h4.0M487.9,580.4v6.0M488.2,583.4h4.0M490.2,580.4v6.0M491.4,583.4h4.0M493.4,580.4v6.0M492.2,583.4h4.0M494.2,580.4v6.0M494.3,583.4h4.0M496.3,580.4v6.0M496.4,583.4h4.0M498.4,580.4v6.0M499.9,583.4h4.0M501.9,580.4v6.0M500.7,583.4h4.0M502.7,580.4v6.0M502.5,583.4h4.0M504.5,580.4v6.0M506.0,583.4h4.0M508.0,580.4v6.0M506.8,583.4h4.0M508.8,580.4v6.0M510.1,583.4h4.0M512.1,580.4v6.0M511.9,583.4h4.0M513.9,580.4v6.0M514.2,583.5h4.0M516.2,580.5v6.0M516.5,583.5h4.0M518.5,580.5v6.0M517.9,583.6h4.0M519.9,580.6v6.0M520.4,583.6h4.0M522.4,580.6v6.0M521.1,583.7h4.0M523.1,580.7v6.0M524.4,583.8h4.0M526.4,580.8v6.0M526.0,583.8h4.0M528.0,580.8v6.0M528.5,583.9h4.0M530.5,580.9v6.0M529.4,583.9h4.0M531.4,580.9v6.0M532.7,584.0h4.0M534.7,581.0v6.0M535.1,584.1h4.0M537.1,581.1v6.0M535.6,584.1h4.0M537.6,581.1v6.0M538.1,584.1h4.0M540.1,581.1v6.0M540.6,584.2h4.0M542.6,581.2v6.0M543.1,584.2h4.0M545.1,581.2v6.0M544.1,584.3h4.0M546.1,581.3v6.0M546.1,584.3h4.0M548.1,581.3v6.0M548.3,584.3h4.0M550.3,581.3v6.0M551.0,584.3h4.0M553.0,581.3v6.0M553.3,584.4h4.0M555.3,581.4v6.0M554.7,584.4h4.0M556.7,581.4v6.0M556.7,584.4h4.0M558.7,581.4v6.0M558.9,584.4h4.0M560.9,581.4v6.0M560.8,584.5h4.0M562.8,581.5v6.0M563.0,584.5h4.0M565.0,581.5v6.0M564.5,584.5h4.0M566.5,581.5v6.0M567.3,584.5h4.0M569.3,581.5v6.0M570.2,584.6h4.0M572.2,581.6v6.0M571.3,584.6h4.0M573.3,581.6v6.0M573.9,584.6h4.0M575.9,581.6v6.0M574.9,584.6h4.0M576.9,581.6v6.0M578.0,584.7h4.0M580.0,581.7v6.0M580.1,584.7h4.0M582.1,581.7v6.0M582.1,584.7h4.0M584.1,581.7v6.0M583.8,584.7h4.0M585.8,581.7v6.0M585.8,584.8h4.0M587.8,581.8v6.0M588.2,584.8h4.0M590.2,581.8v6.0M590.7,584.8h4.0M592.7,581.8v6.0" fill="none" stroke="#3d80bf" stroke-width="1.1"/>
<path d="M368.0,492.0h4.0M370.0,489.0v6.0M369.0,492.6h4.0M371.0,489.6v6.0M371.0,496.9h4.0M373.0,493.9v6.0M382.0,550.6h4.0M384.0,547.6v6.0M388.0,565.2h4.0M390.0,562.2v6.0M393.0,571.0h4.0M395.0,568.0v6.0M400.0,578.6h4.0M402.0,575.6v6.0M406.0,585.5h4.0M408.0,582.5v6.0M411.0,588.6h4.0M413.0,585.6v6.0M416.0,590.7h4.0M418.0,587.7v6.0M432.0,592.1h4.0M434.0,589.1v6.0M435.0,592.3h4.0M437.0,589.3v6.0M446.0,592.4h4.0M448.0,589.4v6.0M451.0,592.4h4.0M453.0,589.4v6.0M454.0,592.4h4.0M456.0,589.4v6.0M460.0,592.4h4.0M462.0,589.4v6.0M463.0,592.4h4.0M465.0,589.4v6.0M486.0,592.4h4.0M488.0,589.4v6.0M492.0,592.4h4.0M494.0,589.4v6.0M504.0,597.9h4.0M506.0,594.9v6.0M524.0,600.1h4.0M526.0,597.1v6.0M537.0,605.7h4.0M539.0,602.7v6.0M553.0,606.0h4.0M555.0,603.0v6.0" fill="none" stroke="#d0242a" stroke-width="1.1"/>
<text x="292.6" y="553.1" font-size="11.8" fill="#3d80bf" stroke="#3d80bf" text-anchor="end"><tspan font-style="italic">DNMT3A</tspan><tspan font-size="8.7" dy="-3.6">wt</tspan><tspan dy="3.6" dx="0.6">, N=741</tspan></text>
<text x="292.6" y="616.5" font-size="11.8" fill="#cf2a2c" stroke="#cf2a2c" text-anchor="end"><tspan font-style="italic">DNMT3A</tspan><tspan font-size="8.7" dy="-3.6">mut</tspan><tspan dy="3.6" dx="0.6">, N=143</tspan></text>
<text x="595.0" y="565.2" font-size="11.8" fill="#3d80bf" stroke="#3d80bf" text-anchor="end"><tspan font-style="italic">DNMT3A</tspan><tspan font-size="8.7" dy="-3.6">wt</tspan><tspan dy="3.6" dx="0.6">, N=741</tspan></text>
<text x="595.0" y="627.3" font-size="11.8" fill="#cf2a2c" stroke="#cf2a2c" text-anchor="end"><tspan font-style="italic">DNMT3A</tspan><tspan font-size="8.7" dy="-3.6">mut</tspan><tspan dy="3.6" dx="0.6">, N=143</tspan></text>
<text x="62.7" y="648.3" font-size="14.2" fill="#000" stroke="#000" text-anchor="start" font-style="italic" >P=0.005</text>
<text x="363.6" y="648.5" font-size="14.2" fill="#000" stroke="#000" text-anchor="start" font-style="italic" >P=0.009</text>
<text x="8.8" y="10.4" font-size="11.6" fill="#1a1a1a" stroke="#1a1a1a" text-anchor="start" style="stroke-width:0.05px">(A)</text>
<text x="0.4" y="425.9" font-size="11.6" fill="#1a1a1a" stroke="#1a1a1a" text-anchor="start" letter-spacing="-0.5" style="stroke-width:0.05px">(B)</text>
</svg>
</body></html>
